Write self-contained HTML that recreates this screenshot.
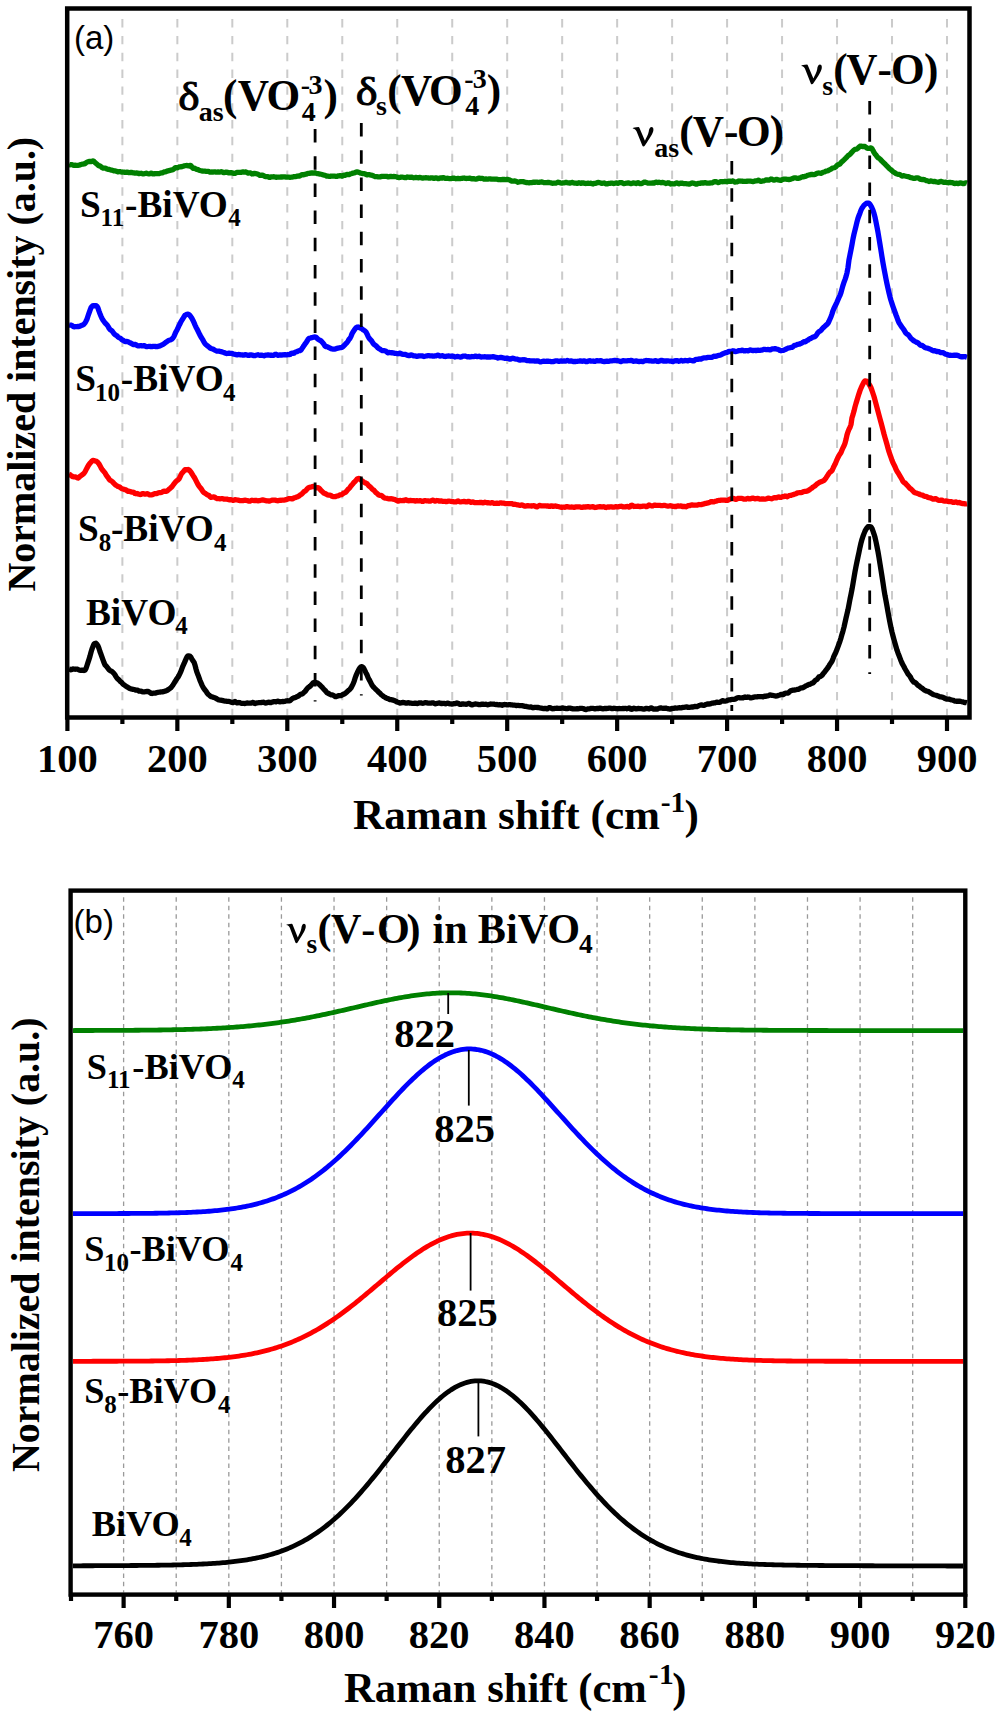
<!DOCTYPE html>
<html><head><meta charset="utf-8"><style>
html,body{margin:0;padding:0;background:#fff;}
svg{display:block;}
</style></head><body>
<svg width="1000" height="1722" viewBox="0 0 1000 1722">
<rect width="1000" height="1722" fill="#fff"/>
<line x1="122.38" y1="19.1" x2="122.38" y2="715" stroke="#cbcbcb" stroke-width="2" stroke-dasharray="8.4 8.42"/>
<line x1="177.35" y1="19.1" x2="177.35" y2="715" stroke="#cbcbcb" stroke-width="2" stroke-dasharray="8.4 8.42"/>
<line x1="232.32" y1="19.1" x2="232.32" y2="715" stroke="#cbcbcb" stroke-width="2" stroke-dasharray="8.4 8.42"/>
<line x1="287.3" y1="19.1" x2="287.3" y2="715" stroke="#cbcbcb" stroke-width="2" stroke-dasharray="8.4 8.42"/>
<line x1="342.27" y1="19.1" x2="342.27" y2="715" stroke="#cbcbcb" stroke-width="2" stroke-dasharray="8.4 8.42"/>
<line x1="397.25" y1="19.1" x2="397.25" y2="715" stroke="#cbcbcb" stroke-width="2" stroke-dasharray="8.4 8.42"/>
<line x1="452.23" y1="19.1" x2="452.23" y2="715" stroke="#cbcbcb" stroke-width="2" stroke-dasharray="8.4 8.42"/>
<line x1="507.2" y1="19.1" x2="507.2" y2="715" stroke="#cbcbcb" stroke-width="2" stroke-dasharray="8.4 8.42"/>
<line x1="562.17" y1="19.1" x2="562.17" y2="715" stroke="#cbcbcb" stroke-width="2" stroke-dasharray="8.4 8.42"/>
<line x1="617.15" y1="19.1" x2="617.15" y2="715" stroke="#cbcbcb" stroke-width="2" stroke-dasharray="8.4 8.42"/>
<line x1="672.12" y1="19.1" x2="672.12" y2="715" stroke="#cbcbcb" stroke-width="2" stroke-dasharray="8.4 8.42"/>
<line x1="727.1" y1="19.1" x2="727.1" y2="715" stroke="#cbcbcb" stroke-width="2" stroke-dasharray="8.4 8.42"/>
<line x1="782.07" y1="19.1" x2="782.07" y2="715" stroke="#cbcbcb" stroke-width="2" stroke-dasharray="8.4 8.42"/>
<line x1="837.05" y1="19.1" x2="837.05" y2="715" stroke="#cbcbcb" stroke-width="2" stroke-dasharray="8.4 8.42"/>
<line x1="892.02" y1="19.1" x2="892.02" y2="715" stroke="#cbcbcb" stroke-width="2" stroke-dasharray="8.4 8.42"/>
<line x1="947" y1="19.1" x2="947" y2="715" stroke="#cbcbcb" stroke-width="2" stroke-dasharray="8.4 8.42"/>
<path d="M69 164.41 L70 164.79 L71 164.71 L72 164.67 L73 165.12 L74 165.26 L75 165.15 L76 165.33 L77 165.42 L78 165.29 L79 165.17 L80 164.92 L81 164.51 L82 164.22 L83 164.13 L84 163.99 L85 163.51 L86 162.77 L87 162.13 L88 161.76 L89 161.46 L90 161.37 L91 161.66 L92 161.48 L93 160.93 L94 161.41 L95 162.55 L96 163.38 L97 164.09 L98 165.09 L99 165.86 L100 165.98 L101 166.62 L102 167.67 L103 168.09 L104 168.18 L105 168.12 L106 168.29 L107 169 L108 169.38 L109 169.38 L110 169.7 L111 170.04 L112 170.21 L113 170.54 L114 170.87 L115 170.98 L116 171.12 L117 171.54 L118 171.83 L119 171.68 L120 171.63 L121 171.84 L122 172.02 L123 172.07 L124 172.1 L125 172.35 L126 172.3 L127 172.06 L128 172.29 L129 172.64 L130 172.66 L131 172.41 L132 172.46 L133 172.78 L134 172.95 L135 173.19 L136 173.16 L137 172.89 L138 173.27 L139 173.64 L140 173.35 L141 173.27 L142 173.62 L143 173.84 L144 173.82 L145 173.46 L146 173.21 L147 173.42 L148 173.72 L149 173.95 L150 173.73 L151 173.21 L152 173.36 L153 173.94 L154 173.95 L155 173.58 L156 173.56 L157 173.68 L158 173.69 L159 173.6 L160 173.3 L161 172.95 L162 172.89 L163 172.61 L164 171.99 L165 171.86 L166 171.64 L167 171.1 L168 170.83 L169 170.61 L170 170.39 L171 170.05 L172 169.82 L173 169.57 L174 168.85 L175 167.93 L176 167.68 L177 167.92 L178 167.52 L179 166.97 L180 166.83 L181 166.75 L182 166.65 L183 166.34 L184 165.93 L185 165.73 L186 165.61 L187 165.51 L188 165.85 L189 165.98 L190 165.43 L191 165.64 L192 167.2 L193 168.29 L194 168.15 L195 168.39 L196 169.07 L197 169.31 L198 169.55 L199 170.08 L200 170.52 L201 170.76 L202 171.01 L203 171.11 L204 171.11 L205 171.21 L206 171.32 L207 171.41 L208 171.3 L209 171.55 L210 172.09 L211 172.07 L212 171.97 L213 172.03 L214 171.91 L215 171.96 L216 172.18 L217 172.06 L218 171.95 L219 172.15 L220 172.01 L221 171.75 L222 171.86 L223 172.36 L224 172.67 L225 172.43 L226 172.16 L227 172.06 L228 172.51 L229 172.95 L230 172.74 L231 172.62 L232 172.87 L233 173.1 L234 173.31 L235 173.37 L236 172.89 L237 172.42 L238 172.37 L239 172.4 L240 172.37 L241 172.32 L242 172.06 L243 171.89 L244 172.12 L245 172.02 L246 171.97 L247 172.57 L248 173.02 L249 172.99 L250 172.8 L251 173.16 L252 173.98 L253 173.88 L254 173.3 L255 173.45 L256 173.7 L257 173.82 L258 174.24 L259 174.83 L260 175.47 L261 175.43 L262 175.06 L263 175.35 L264 175.87 L265 176.44 L266 176.71 L267 176.56 L268 176.65 L269 177.34 L270 177.44 L271 176.89 L272 176.78 L273 176.85 L274 176.76 L275 176.99 L276 177.33 L277 177.11 L278 177.03 L279 177.2 L280 177.06 L281 176.97 L282 176.99 L283 176.92 L284 176.8 L285 176.89 L286 177.04 L287 177.09 L288 177.13 L289 177.23 L290 177.32 L291 177.2 L292 177.03 L293 176.89 L294 176.67 L295 176.59 L296 176.57 L297 176.2 L298 176 L299 176.11 L300 175.9 L301 175.19 L302 174.71 L303 174.9 L304 174.73 L305 174.32 L306 174.22 L307 173.78 L308 173.34 L309 173.32 L310 173.25 L311 172.9 L312 172.84 L313 173.21 L314 172.95 L315 172.77 L316 173.25 L317 173.55 L318 173.7 L319 173.84 L320 174.05 L321 174.26 L322 174.5 L323 174.91 L324 175.05 L325 175.24 L326 175.8 L327 176.22 L328 176.22 L329 176.32 L330 176.4 L331 176.06 L332 176.06 L333 176.22 L334 176.12 L335 176.24 L336 176.47 L337 176.39 L338 175.97 L339 175.84 L340 175.67 L341 175.69 L342 176.17 L343 175.72 L344 175.23 L345 175.34 L346 174.86 L347 174.37 L348 174.6 L349 174.59 L350 174.06 L351 173.75 L352 173.47 L353 173.05 L354 172.88 L355 172.63 L356 172.1 L357 171.89 L358 172.08 L359 172.43 L360 172.9 L361 173.22 L362 173.42 L363 173.59 L364 173.64 L365 173.81 L366 174.44 L367 174.86 L368 174.62 L369 174.56 L370 174.85 L371 175.04 L372 175.31 L373 175.69 L374 176.15 L375 176.57 L376 176.62 L377 176.72 L378 176.85 L379 176.86 L380 176.91 L381 176.57 L382 176.32 L383 176.47 L384 176.43 L385 176.31 L386 176.3 L387 176.47 L388 176.9 L389 176.85 L390 176.48 L391 176.43 L392 176.59 L393 176.63 L394 176.49 L395 176.56 L396 176.78 L397 177.04 L398 177.47 L399 177.61 L400 177.43 L401 177.18 L402 177.04 L403 177.27 L404 177.46 L405 177.69 L406 177.56 L407 177.02 L408 177.03 L409 177.26 L410 177.3 L411 177.15 L412 177.23 L413 177.61 L414 177.77 L415 177.58 L416 177.32 L417 177.49 L418 177.81 L419 177.56 L420 177.34 L421 177.77 L422 178.08 L423 178 L424 177.91 L425 177.82 L426 177.7 L427 177.77 L428 177.88 L429 178.12 L430 178.15 L431 177.82 L432 177.8 L433 178.1 L434 178.38 L435 178.16 L436 177.81 L437 178.06 L438 178.58 L439 178.5 L440 177.81 L441 177.88 L442 178.2 L443 177.76 L444 177.69 L445 178.27 L446 178.43 L447 178.22 L448 178.28 L449 178.54 L450 178.68 L451 178.61 L452 178.44 L453 178.17 L454 178.14 L455 178.45 L456 178.74 L457 178.59 L458 178.36 L459 178.6 L460 178.72 L461 178.48 L462 178.34 L463 178.15 L464 178.02 L465 178.35 L466 178.49 L467 178.43 L468 178.44 L469 178.21 L470 178.17 L471 178.65 L472 178.86 L473 178.53 L474 178.7 L475 179.04 L476 179.06 L477 178.92 L478 178.27 L479 178.06 L480 178.47 L481 178.48 L482 178.35 L483 178.56 L484 179.05 L485 179.11 L486 178.9 L487 179.04 L488 179.03 L489 178.91 L490 178.91 L491 179.01 L492 179.18 L493 179.15 L494 179.14 L495 179.23 L496 179.12 L497 179.2 L498 179.54 L499 179.61 L500 179.55 L501 179.73 L502 179.62 L503 179.31 L504 179.39 L505 179.7 L506 179.68 L507 179.41 L508 179.45 L509 179.73 L510 180.16 L511 180.81 L512 181.21 L513 181.18 L514 181.01 L515 180.94 L516 181.22 L517 181.82 L518 182.24 L519 182.03 L520 181.69 L521 181.64 L522 181.59 L523 181.59 L524 181.83 L525 182.28 L526 182.57 L527 182.52 L528 182.72 L529 182.8 L530 182.63 L531 182.72 L532 182.55 L533 182.23 L534 182.25 L535 182.26 L536 182.18 L537 182.22 L538 182.38 L539 182.34 L540 182.15 L541 182.02 L542 181.98 L543 182.33 L544 182.63 L545 182.58 L546 182.61 L547 182.56 L548 182.33 L549 182.39 L550 182.75 L551 182.92 L552 183.14 L553 183.31 L554 183.05 L555 183.04 L556 183.1 L557 182.68 L558 182.27 L559 182.29 L560 182.76 L561 183.12 L562 183.03 L563 182.83 L564 182.82 L565 182.66 L566 182.4 L567 182.67 L568 182.78 L569 182.87 L570 183.19 L571 182.76 L572 182.37 L573 182.71 L574 183.08 L575 183.08 L576 183.24 L577 183.41 L578 183.11 L579 182.75 L580 183.05 L581 183.38 L582 182.96 L583 182.78 L584 183.17 L585 183.46 L586 183.52 L587 183.33 L588 183.18 L589 183.44 L590 183.32 L591 183.1 L592 183.77 L593 183.98 L594 183.36 L595 183.34 L596 183.43 L597 182.75 L598 182.3 L599 182.52 L600 182.81 L601 183.07 L602 183.34 L603 183.19 L604 182.97 L605 183.44 L606 183.95 L607 183.91 L608 183.62 L609 183.45 L610 183.3 L611 183.13 L612 183.21 L613 183.37 L614 183.5 L615 183.26 L616 182.9 L617 183.16 L618 183.3 L619 182.88 L620 182.67 L621 182.59 L622 182.69 L623 183.31 L624 183.66 L625 183.49 L626 183.22 L627 183.09 L628 182.99 L629 182.99 L630 183.31 L631 183.56 L632 183.34 L633 183.01 L634 182.94 L635 183.22 L636 183.5 L637 183.04 L638 182.56 L639 183.11 L640 183.67 L641 183.57 L642 183.34 L643 182.86 L644 182.22 L645 182.07 L646 182.4 L647 182.85 L648 183.18 L649 183.21 L650 183.16 L651 183.21 L652 183 L653 182.93 L654 183.07 L655 182.55 L656 182.05 L657 182.42 L658 182.54 L659 182.21 L660 182.53 L661 182.77 L662 182.48 L663 182.47 L664 182.75 L665 183.14 L666 183.53 L667 183.29 L668 182.75 L669 182.93 L670 183.64 L671 184.01 L672 183.77 L673 183.78 L674 183.96 L675 183.64 L676 183.17 L677 182.97 L678 183.44 L679 183.82 L680 183.41 L681 183.11 L682 183.13 L683 183.46 L684 183.72 L685 183.63 L686 183.73 L687 183.81 L688 183.9 L689 184.06 L690 183.81 L691 183.31 L692 183.01 L693 183.08 L694 183.28 L695 183.64 L696 184.22 L697 184.09 L698 183.36 L699 183.29 L700 183.31 L701 182.78 L702 182.85 L703 183.14 L704 182.85 L705 182.7 L706 182.89 L707 183.07 L708 183.05 L709 183.03 L710 182.99 L711 182.96 L712 182.87 L713 182.35 L714 181.8 L715 181.57 L716 181.66 L717 182.13 L718 182.53 L719 182.35 L720 181.9 L721 181.68 L722 181.72 L723 181.75 L724 181.55 L725 181.37 L726 181.67 L727 181.73 L728 181.28 L729 181.08 L730 181.11 L731 181.32 L732 181.17 L733 180.95 L734 181.57 L735 182.08 L736 181.97 L737 181.83 L738 181.33 L739 180.93 L740 181.22 L741 181.17 L742 181.05 L743 181.43 L744 181.47 L745 181.35 L746 181.36 L747 181.26 L748 181.2 L749 181.16 L750 181.1 L751 181.18 L752 181.47 L753 181.63 L754 181.44 L755 181 L756 180.94 L757 180.82 L758 180.21 L759 180.43 L760 181.13 L761 181.29 L762 181.13 L763 180.92 L764 180.76 L765 180.38 L766 179.93 L767 179.86 L768 180.08 L769 180.17 L770 179.68 L771 179.02 L772 179.18 L773 179.85 L774 180.09 L775 179.86 L776 179.39 L777 179.48 L778 179.97 L779 180.02 L780 180.26 L781 180.36 L782 179.8 L783 179.4 L784 179.22 L785 179.08 L786 179.17 L787 179.27 L788 179.35 L789 179.55 L790 179.43 L791 179.04 L792 178.79 L793 178.35 L794 177.99 L795 177.88 L796 177.96 L797 178.3 L798 178.46 L799 178.23 L800 177.81 L801 177.42 L802 176.94 L803 176.66 L804 176.74 L805 176.46 L806 176.01 L807 175.69 L808 175.21 L809 174.98 L810 174.82 L811 174.45 L812 174.36 L813 174.58 L814 174.64 L815 174.43 L816 173.85 L817 173.26 L818 173.04 L819 172.99 L820 173.24 L821 173.35 L822 172.87 L823 172.29 L824 172.04 L825 171.69 L826 171.18 L827 171.01 L828 170.71 L829 170.08 L830 169.62 L831 169.18 L832 168.46 L833 167.98 L834 167.76 L835 167.41 L836 166.73 L837 165.44 L838 164.55 L839 164.49 L840 163.91 L841 162.59 L842 161.57 L843 160.81 L844 159.88 L845 158.9 L846 157.92 L847 156.87 L848 155.7 L849 155 L850 154.33 L851 153.17 L852 152.13 L853 151.06 L854 149.98 L855 149.45 L856 149.26 L857 148.9 L858 148.19 L859 147.03 L860 146.23 L861 146.11 L862 146.43 L863 146.63 L864 146.44 L865 146.48 L866 147.25 L867 148.24 L868 148.4 L869 148.26 L870 148.12 L871 147.82 L872 148.55 L873 150.6 L874 152.5 L875 153.9 L876 155.06 L877 156.59 L878 157.73 L879 158.2 L880 159 L881 160.11 L882 161.22 L883 162.24 L884 163.09 L885 164.03 L886 165.11 L887 166.12 L888 167.13 L889 168.19 L890 169.1 L891 169.76 L892 170.69 L893 171.72 L894 172.28 L895 172.87 L896 173.61 L897 174.01 L898 174.29 L899 174.46 L900 174.65 L901 175.34 L902 176 L903 175.88 L904 175.69 L905 175.98 L906 176.22 L907 176.5 L908 176.71 L909 176.92 L910 177.42 L911 177.66 L912 177.84 L913 178.16 L914 178.47 L915 178.3 L916 177.91 L917 177.81 L918 177.81 L919 178.29 L920 179.04 L921 179.48 L922 179.57 L923 179.46 L924 179.59 L925 179.98 L926 180.52 L927 180.7 L928 180.97 L929 181.51 L930 181.17 L931 180.85 L932 181.24 L933 181.53 L934 181.45 L935 181.49 L936 181.82 L937 182.03 L938 182.32 L939 182.21 L940 181.59 L941 181.39 L942 181.68 L943 182.07 L944 182.29 L945 182.25 L946 182.22 L947 182.61 L948 182.74 L949 182.33 L950 182.39 L951 182.67 L952 182.67 L953 182.92 L954 183.43 L955 183.56 L956 183.2 L957 183.16 L958 183.55 L959 183.36 L960 182.91 L961 182.87 L962 183.25 L963 183.72 L964 183.57 L965 182.99 L966 182.78 L967 183.19" fill="none" stroke="#008000" stroke-width="5.3" stroke-linejoin="round" stroke-linecap="butt"/>
<path d="M69 324.98 L70 325.19 L71 325.16 L72 325.46 L73 326.46 L74 326.82 L75 326.59 L76 326.69 L77 326.61 L78 326.48 L79 326.5 L80 326.2 L81 325.68 L82 325.25 L83 324.83 L84 324.17 L85 322.94 L86 321.23 L87 319.11 L88 316.05 L89 313.13 L90 310.27 L91 307.74 L92 306.45 L93 305.55 L94 305.6 L95 305.78 L96 305.64 L97 306.21 L98 308.06 L99 311.06 L100 313.75 L101 316.22 L102 318.45 L103 320.12 L104 321.47 L105 322.77 L106 323.95 L107 324.94 L108 326.29 L109 328.1 L110 329.52 L111 330.14 L112 330.87 L113 332.23 L114 333.56 L115 334.59 L116 335.27 L117 335.83 L118 336.98 L119 337.77 L120 337.98 L121 338.85 L122 339.77 L123 340.22 L124 340.95 L125 341.58 L126 341.5 L127 341.37 L128 341.74 L129 342.36 L130 342.79 L131 343.24 L132 343.95 L133 344.48 L134 344.52 L135 344.36 L136 344.7 L137 345.48 L138 345.9 L139 345.97 L140 345.7 L141 345.58 L142 345.9 L143 345.87 L144 345.6 L145 345.98 L146 346.64 L147 346.7 L148 346.49 L149 346.31 L150 346.37 L151 346.65 L152 346.54 L153 346.34 L154 346.33 L155 346.36 L156 346.64 L157 346.66 L158 346.39 L159 346.23 L160 345.81 L161 345.34 L162 344.86 L163 344.37 L164 343.79 L165 342.95 L166 342.15 L167 341.52 L168 340.85 L169 340.25 L170 339.99 L171 339.7 L172 338.99 L173 337.9 L174 336.33 L175 333.91 L176 331.7 L177 329.94 L178 327.82 L179 325.73 L180 323.72 L181 321.68 L182 319.98 L183 318.55 L184 316.79 L185 315.25 L186 314.65 L187 314.25 L188 314.08 L189 314.55 L190 315.64 L191 317.03 L192 318.56 L193 320.42 L194 322.53 L195 324.97 L196 327.19 L197 329 L198 330.98 L199 333.06 L200 335.16 L201 336.94 L202 338.46 L203 340.18 L204 342.06 L205 343.7 L206 344.73 L207 345.51 L208 346.2 L209 347.02 L210 347.89 L211 348.49 L212 348.83 L213 349.13 L214 349.66 L215 350.25 L216 350.8 L217 351.1 L218 351.14 L219 351.16 L220 351.4 L221 351.61 L222 351.86 L223 352.25 L224 352.54 L225 352.95 L226 353.37 L227 353.51 L228 353.3 L229 353.1 L230 353.31 L231 353.43 L232 353.49 L233 353.99 L234 354.21 L235 354.33 L236 354.72 L237 354.84 L238 354.6 L239 354.47 L240 354.75 L241 354.85 L242 354.85 L243 355.2 L244 355.04 L245 354.62 L246 354.71 L247 354.98 L248 355.43 L249 355.42 L250 354.89 L251 354.82 L252 355.07 L253 355.36 L254 355.69 L255 355.57 L256 355.3 L257 355.04 L258 354.76 L259 355.12 L260 355.46 L261 355.17 L262 355.06 L263 355.53 L264 355.84 L265 355.37 L266 355.12 L267 355.19 L268 354.95 L269 355 L270 355.24 L271 355.26 L272 355.26 L273 355.46 L274 355.17 L275 354.41 L276 354.26 L277 354.86 L278 355.33 L279 355.17 L280 354.9 L281 354.89 L282 355.01 L283 354.97 L284 354.66 L285 354.53 L286 354.9 L287 354.78 L288 354.45 L289 354.71 L290 354.45 L291 353.51 L292 353.07 L293 353.28 L294 353.13 L295 352.27 L296 351.78 L297 351.7 L298 351.07 L299 350.64 L300 350.71 L301 349.99 L302 348.49 L303 347.08 L304 345.6 L305 343.99 L306 342.81 L307 341.32 L308 339.44 L309 338.46 L310 338.27 L311 337.87 L312 337.52 L313 337.34 L314 337.01 L315 336.86 L316 337.26 L317 338.23 L318 339.18 L319 339.79 L320 340.26 L321 340.87 L322 341.88 L323 343.02 L324 344.41 L325 346.02 L326 346.63 L327 346.67 L328 347.14 L329 347.71 L330 348.2 L331 348.72 L332 348.96 L333 349.1 L334 349.2 L335 349.08 L336 348.72 L337 348.35 L338 348.17 L339 347.97 L340 347.7 L341 347.54 L342 347.36 L343 346.63 L344 345.61 L345 344.59 L346 343.54 L347 342.61 L348 341.11 L349 339.42 L350 338.35 L351 336.41 L352 333.74 L353 331.9 L354 330.41 L355 328.95 L356 327.84 L357 327.2 L358 326.97 L359 327.35 L360 327.87 L361 328.18 L362 328.85 L363 329.7 L364 330.33 L365 330.92 L366 332.01 L367 333.94 L368 336.19 L369 338.03 L370 339.25 L371 340.22 L372 341.49 L373 343.22 L374 344.46 L375 345.09 L376 345.78 L377 346.76 L378 347.98 L379 348.73 L380 349.23 L381 349.96 L382 350.51 L383 350.66 L384 350.7 L385 350.81 L386 351.24 L387 352.26 L388 352.72 L389 352.32 L390 352.5 L391 352.79 L392 352.75 L393 352.84 L394 353.09 L395 353.41 L396 353.43 L397 353.55 L398 353.74 L399 353.42 L400 353.18 L401 353.64 L402 354.19 L403 354.33 L404 354.29 L405 354.31 L406 354.71 L407 355.11 L408 355.41 L409 355.68 L410 355.37 L411 354.87 L412 355.05 L413 355.61 L414 355.84 L415 355.93 L416 356.11 L417 356.34 L418 356.21 L419 355.82 L420 355.92 L421 355.93 L422 355.8 L423 356.21 L424 356.5 L425 356.26 L426 355.99 L427 355.79 L428 355.65 L429 355.71 L430 355.8 L431 355.83 L432 355.88 L433 356.15 L434 356.18 L435 355.94 L436 355.82 L437 355.32 L438 355.17 L439 355.73 L440 356.12 L441 355.99 L442 355.71 L443 355.9 L444 356.34 L445 356.5 L446 356.39 L447 356.19 L448 355.99 L449 355.98 L450 356.2 L451 356.27 L452 356 L453 356.03 L454 356.62 L455 356.98 L456 356.77 L457 356.48 L458 356.51 L459 356.76 L460 356.99 L461 357.06 L462 356.69 L463 356.21 L464 356.1 L465 356.02 L466 356.25 L467 356.87 L468 356.82 L469 356.63 L470 356.99 L471 356.83 L472 356.5 L473 356.66 L474 356.64 L475 356.25 L476 356.12 L477 356.56 L478 356.53 L479 356.23 L480 356.73 L481 357.05 L482 356.86 L483 356.85 L484 356.77 L485 356.65 L486 356.97 L487 357.15 L488 356.88 L489 356.98 L490 357.11 L491 356.92 L492 356.78 L493 356.66 L494 356.83 L495 357.23 L496 357.3 L497 357.59 L498 358.05 L499 357.74 L500 357.42 L501 357.45 L502 357.66 L503 357.94 L504 358.04 L505 358.37 L506 358.39 L507 358.18 L508 358.36 L509 358.79 L510 359.21 L511 358.9 L512 358.34 L513 358.24 L514 358.53 L515 358.9 L516 359.01 L517 359.1 L518 359.43 L519 359.99 L520 360.21 L521 359.84 L522 359.77 L523 359.82 L524 359.72 L525 359.82 L526 360.22 L527 360.64 L528 360.61 L529 360.6 L530 360.86 L531 360.91 L532 360.85 L533 360.82 L534 360.81 L535 361.06 L536 361.13 L537 360.79 L538 360.86 L539 361.34 L540 361.76 L541 361.89 L542 361.51 L543 361.26 L544 361.23 L545 361.34 L546 361.38 L547 361.12 L548 361.13 L549 361.29 L550 361.39 L551 361.57 L552 361.73 L553 361.66 L554 361.39 L555 361.04 L556 360.79 L557 360.82 L558 361.1 L559 361.32 L560 361.07 L561 360.94 L562 361.14 L563 361.01 L564 360.9 L565 361.15 L566 361.02 L567 360.5 L568 360.63 L569 361.09 L570 361.06 L571 360.89 L572 361.17 L573 361.49 L574 361.41 L575 361.49 L576 361.5 L577 361.3 L578 361.25 L579 361.1 L580 360.87 L581 360.98 L582 361.28 L583 361.18 L584 360.89 L585 361.11 L586 361.69 L587 361.68 L588 361.22 L589 360.83 L590 360.77 L591 361.15 L592 361.15 L593 361.01 L594 361.39 L595 361.37 L596 360.85 L597 360.71 L598 360.85 L599 360.97 L600 360.76 L601 360.73 L602 361.22 L603 361.46 L604 361.56 L605 361.49 L606 361.16 L607 361.17 L608 361.36 L609 361.29 L610 360.98 L611 360.81 L612 360.81 L613 360.71 L614 360.46 L615 360.38 L616 360.6 L617 360.65 L618 360.7 L619 360.95 L620 361.34 L621 361.59 L622 361.12 L623 360.66 L624 360.76 L625 360.91 L626 360.93 L627 360.77 L628 360.64 L629 360.68 L630 360.51 L631 360.32 L632 360.56 L633 361.07 L634 361.29 L635 361.03 L636 360.94 L637 361.18 L638 361.45 L639 361.59 L640 361.38 L641 361.26 L642 361.58 L643 361.54 L644 361.1 L645 360.75 L646 360.51 L647 360.55 L648 360.68 L649 360.75 L650 360.82 L651 360.87 L652 361.02 L653 361.15 L654 361.05 L655 360.7 L656 360.74 L657 361.36 L658 361.5 L659 361.15 L660 360.88 L661 360.44 L662 360.32 L663 360.91 L664 361.22 L665 360.8 L666 360.85 L667 361.07 L668 360.79 L669 360.98 L670 361.19 L671 361.04 L672 361.38 L673 361.59 L674 361.01 L675 360.73 L676 360.8 L677 360.59 L678 360.76 L679 361.28 L680 361.04 L681 360.44 L682 360.59 L683 361 L684 360.85 L685 360.46 L686 360.55 L687 360.76 L688 360.75 L689 360.36 L690 360.14 L691 360.5 L692 360.65 L693 360.88 L694 360.84 L695 359.87 L696 359.31 L697 359.45 L698 359.28 L699 358.84 L700 358.89 L701 359.12 L702 358.64 L703 358.06 L704 357.93 L705 357.89 L706 357.9 L707 357.65 L708 357.44 L709 357.45 L710 357.32 L711 357.4 L712 357.3 L713 356.67 L714 356.26 L715 356.32 L716 356.27 L717 355.9 L718 355.54 L719 355.31 L720 355.17 L721 354.82 L722 354.17 L723 353.72 L724 353.36 L725 352.91 L726 352.66 L727 352.39 L728 351.85 L729 351.28 L730 351.28 L731 351.7 L732 351.45 L733 350.76 L734 350.88 L735 351.56 L736 351.6 L737 351.27 L738 350.97 L739 350.55 L740 350.67 L741 350.69 L742 350.19 L743 350.31 L744 350.9 L745 350.94 L746 350.59 L747 350.74 L748 350.91 L749 350.37 L750 349.97 L751 350.11 L752 350.38 L753 350.61 L754 350.35 L755 350.33 L756 350.64 L757 350.38 L758 350.24 L759 350.4 L760 350.33 L761 350.19 L762 350.08 L763 349.72 L764 349.37 L765 349.46 L766 349.57 L767 349.57 L768 349.49 L769 349.54 L770 349.96 L771 349.73 L772 348.99 L773 348.95 L774 348.77 L775 348.55 L776 348.97 L777 349.23 L778 349.34 L779 349.8 L780 350.49 L781 350.73 L782 350.51 L783 350.31 L784 350.08 L785 349.67 L786 349.13 L787 348.59 L788 348.16 L789 347.98 L790 347.75 L791 347.36 L792 347.34 L793 346.86 L794 345.71 L795 345.25 L796 345.09 L797 344.62 L798 344.27 L799 344.16 L800 343.85 L801 343.36 L802 342.95 L803 342.23 L804 341.71 L805 341.75 L806 341.26 L807 340.55 L808 340.15 L809 339.31 L810 338.63 L811 338.35 L812 337.69 L813 337.16 L814 336.95 L815 336.55 L816 335.62 L817 334.09 L818 332.58 L819 331.59 L820 331.09 L821 330.37 L822 329.06 L823 327.92 L824 327.14 L825 326.17 L826 325.22 L827 324.45 L828 323.33 L829 321.24 L830 318.99 L831 316.76 L832 313.84 L833 310.65 L834 308.25 L835 306.28 L836 304.25 L837 302.12 L838 299.66 L839 297.4 L840 295.42 L841 292.57 L842 288.84 L843 285.34 L844 282.26 L845 279.63 L846 276.67 L847 272.79 L848 267.43 L849 259.71 L850 254.66 L851 249.81 L852 244.4 L853 238.89 L854 234.16 L855 230.12 L856 226.07 L857 221.89 L858 218.24 L859 215.51 L860 212.93 L861 210.11 L862 208.09 L863 206.69 L864 205.27 L865 204.46 L866 203.71 L867 203.03 L868 203.08 L869 203.38 L870 204.4 L871 206.03 L872 208.01 L873 210.32 L874 213.31 L875 217.14 L876 221.95 L877 227.07 L878 232.32 L879 238.35 L880 244.53 L881 250.67 L882 256.96 L883 262.97 L884 268.49 L885 273.78 L886 279.01 L887 283.86 L888 288.37 L889 292.81 L890 296.92 L891 300.5 L892 303.63 L893 306.58 L894 309.42 L895 312.2 L896 314.98 L897 317.56 L898 320.37 L899 322.73 L900 324.17 L901 325.83 L902 327.34 L903 328.46 L904 329.9 L905 331.72 L906 333.27 L907 334.04 L908 334.58 L909 335.62 L910 337.13 L911 338.47 L912 339.29 L913 340.12 L914 340.97 L915 341.48 L916 342.02 L917 342.47 L918 342.98 L919 343.98 L920 344.94 L921 345.35 L922 345.42 L923 345.98 L924 346.91 L925 347.6 L926 347.94 L927 348.04 L928 348.32 L929 348.75 L930 349.17 L931 349.6 L932 350.19 L933 350.76 L934 350.71 L935 350.66 L936 351.31 L937 351.64 L938 351.47 L939 351.7 L940 352.31 L941 352.7 L942 352.58 L943 352.62 L944 353.2 L945 353.97 L946 354.29 L947 354.31 L948 354.94 L949 355.25 L950 355.13 L951 355.28 L952 355.34 L953 355.32 L954 355.25 L955 355.26 L956 355.16 L957 355.2 L958 355.59 L959 355.98 L960 356.52 L961 356.83 L962 356.71 L963 356.73 L964 356.68 L965 356.59 L966 356.96 L967 357.29" fill="none" stroke="#0000ff" stroke-width="5.3" stroke-linejoin="round" stroke-linecap="butt"/>
<path d="M69 474.21 L70 474.6 L71 475.47 L72 476.29 L73 476.74 L74 476.94 L75 476.93 L76 477.14 L77 477.65 L78 478 L79 477.28 L80 476.3 L81 475.71 L82 474.96 L83 474.12 L84 473.34 L85 471.87 L86 469.86 L87 467.95 L88 466.11 L89 464.51 L90 463.34 L91 462.13 L92 460.98 L93 460.43 L94 460.59 L95 460.96 L96 461.09 L97 461.72 L98 462.73 L99 463.91 L100 465.68 L101 467.68 L102 469.19 L103 470.6 L104 471.71 L105 472.87 L106 474.78 L107 476.24 L108 477.41 L109 479.01 L110 480.21 L111 480.75 L112 481.39 L113 482.38 L114 483.49 L115 484.56 L116 485.24 L117 485.84 L118 486.51 L119 486.81 L120 487.23 L121 488.12 L122 488.77 L123 489 L124 489.38 L125 489.67 L126 489.93 L127 490.79 L128 491.23 L129 491.16 L130 491.49 L131 491.96 L132 492.18 L133 492.07 L134 492.53 L135 493.52 L136 493.74 L137 493.42 L138 493.78 L139 494.28 L140 494.5 L141 494.43 L142 493.9 L143 493.59 L144 493.78 L145 494.13 L146 494.11 L147 493.74 L148 493.89 L149 494.61 L150 494.9 L151 494.86 L152 494.85 L153 494.48 L154 493.95 L155 493.59 L156 493.65 L157 493.62 L158 493 L159 492.62 L160 492.62 L161 492.6 L162 492.27 L163 491.49 L164 491.06 L165 491.31 L166 491.46 L167 491 L168 490.17 L169 489.31 L170 488.47 L171 487.59 L172 486.58 L173 485.26 L174 483.93 L175 482.67 L176 481.41 L177 480.53 L178 479.93 L179 478.91 L180 477.07 L181 474.74 L182 473.02 L183 472.04 L184 470.79 L185 469.65 L186 469.62 L187 469.75 L188 469.51 L189 469.95 L190 470.97 L191 472.21 L192 473.76 L193 475.42 L194 476.89 L195 478.62 L196 480.59 L197 482.59 L198 484.52 L199 486.08 L200 487.32 L201 488.54 L202 490.05 L203 491.65 L204 492.67 L205 493.21 L206 493.97 L207 494.69 L208 495.03 L209 495.51 L210 496.6 L211 497.38 L212 497.23 L213 497 L214 497.02 L215 497.37 L216 498.11 L217 498.53 L218 498.57 L219 498.69 L220 498.83 L221 498.72 L222 498.54 L223 498.8 L224 499.09 L225 499.05 L226 499.05 L227 499.14 L228 499.45 L229 499.74 L230 499.65 L231 499.73 L232 500.06 L233 500.33 L234 500.12 L235 499.67 L236 499.81 L237 499.97 L238 500.09 L239 500.43 L240 500.62 L241 500.55 L242 500.53 L243 500.57 L244 500.3 L245 500.23 L246 500.35 L247 500.5 L248 500.93 L249 501.16 L250 501.04 L251 500.56 L252 500.26 L253 500.45 L254 500.52 L255 500.38 L256 500.42 L257 500.68 L258 500.77 L259 500.62 L260 500.55 L261 500.29 L262 500.02 L263 499.99 L264 500.08 L265 500.51 L266 500.82 L267 500.77 L268 500.92 L269 501.07 L270 500.82 L271 500.55 L272 500.22 L273 500.11 L274 500.22 L275 500.18 L276 500.39 L277 500.68 L278 500.73 L279 500.44 L280 500.21 L281 500.28 L282 500.17 L283 500.09 L284 500.06 L285 499.9 L286 499.61 L287 499.34 L288 498.97 L289 498.6 L290 498.52 L291 498.62 L292 498.92 L293 498.61 L294 497.78 L295 497.59 L296 497.36 L297 496.93 L298 496.69 L299 496 L300 495.12 L301 494.54 L302 493.83 L303 492.69 L304 491.6 L305 491.06 L306 490.3 L307 489.02 L308 488.13 L309 487.52 L310 487.17 L311 487.14 L312 486.76 L313 486.29 L314 486.4 L315 487.12 L316 487.74 L317 487.68 L318 487.76 L319 488.23 L320 489.23 L321 490.46 L322 491.33 L323 492.29 L324 493.2 L325 493.52 L326 493.96 L327 494.71 L328 495.04 L329 495.07 L330 495.19 L331 495.56 L332 496.21 L333 496.61 L334 496.71 L335 496.69 L336 496.38 L337 496.02 L338 495.83 L339 495.44 L340 494.96 L341 494.76 L342 494.46 L343 493.7 L344 492.94 L345 492.58 L346 491.92 L347 490.59 L348 489.35 L349 488.53 L350 487.44 L351 485.85 L352 484.8 L353 483.7 L354 482.37 L355 481.54 L356 480.34 L357 479.12 L358 478.57 L359 478.46 L360 479.18 L361 480.12 L362 480.71 L363 481.5 L364 482.17 L365 482.79 L366 483.21 L367 483.62 L368 484.85 L369 486.08 L370 486.72 L371 487.65 L372 488.91 L373 489.68 L374 490.32 L375 491.53 L376 492.68 L377 493.42 L378 494.39 L379 495.21 L380 495.36 L381 495.41 L382 495.94 L383 496.9 L384 497.69 L385 498.07 L386 498.25 L387 498.4 L388 498.62 L389 498.77 L390 498.79 L391 498.7 L392 498.82 L393 499.16 L394 499.3 L395 499.61 L396 500.1 L397 500.64 L398 501.19 L399 500.92 L400 500.46 L401 500.6 L402 500.56 L403 500.49 L404 500.6 L405 500.03 L406 499.69 L407 500.26 L408 500.71 L409 500.81 L410 500.45 L411 500.4 L412 500.72 L413 500.56 L414 500.73 L415 501.08 L416 500.86 L417 500.66 L418 500.79 L419 500.8 L420 500.66 L421 500.83 L422 501.27 L423 501.39 L424 500.84 L425 500.55 L426 500.79 L427 500.82 L428 500.85 L429 501.06 L430 501.09 L431 500.83 L432 500.41 L433 500.06 L434 500.53 L435 501.14 L436 500.88 L437 500.52 L438 500.64 L439 501.03 L440 501 L441 500.85 L442 501.14 L443 501.37 L444 501.28 L445 501.31 L446 501.62 L447 501.53 L448 501.17 L449 501.05 L450 501.24 L451 501.45 L452 501.51 L453 501.68 L454 501.86 L455 501.95 L456 501.82 L457 501.28 L458 500.98 L459 501.43 L460 501.81 L461 501.79 L462 501.7 L463 501.51 L464 501.34 L465 501.55 L466 501.97 L467 501.9 L468 501.47 L469 501.34 L470 501.8 L471 502.3 L472 502.12 L473 501.99 L474 502.46 L475 502.72 L476 502.61 L477 502.58 L478 502.61 L479 502.56 L480 502.37 L481 502.33 L482 502.61 L483 502.87 L484 502.67 L485 502.22 L486 502.5 L487 502.82 L488 502.66 L489 502.79 L490 503.01 L491 502.9 L492 502.68 L493 502.85 L494 503.31 L495 503.44 L496 503.21 L497 503.12 L498 503.32 L499 503.34 L500 502.91 L501 502.81 L502 503.07 L503 503.07 L504 503.2 L505 503.58 L506 503.64 L507 503.6 L508 503.62 L509 503.57 L510 503.65 L511 503.53 L512 503.7 L513 504.24 L514 504.28 L515 504.19 L516 504.48 L517 504.83 L518 504.93 L519 505.13 L520 505.29 L521 505.09 L522 505 L523 505.33 L524 505.83 L525 506.11 L526 506.03 L527 505.74 L528 505.7 L529 505.83 L530 505.83 L531 506.02 L532 506 L533 505.71 L534 505.71 L535 506.07 L536 506.72 L537 506.87 L538 506.29 L539 505.67 L540 505.42 L541 505.78 L542 505.94 L543 505.9 L544 505.97 L545 505.78 L546 505.9 L547 506.02 L548 506 L549 506.44 L550 506.47 L551 505.84 L552 505.8 L553 506.29 L554 506.25 L555 505.99 L556 506.13 L557 506.33 L558 506.51 L559 506.73 L560 506.96 L561 507.25 L562 507.26 L563 507.1 L564 507.17 L565 507.23 L566 506.86 L567 506.55 L568 506.77 L569 507.08 L570 507.21 L571 507.09 L572 506.99 L573 507.2 L574 507.36 L575 507.09 L576 506.86 L577 506.87 L578 506.84 L579 506.9 L580 506.98 L581 507.28 L582 507.46 L583 507.12 L584 506.9 L585 507.02 L586 506.98 L587 506.67 L588 506.64 L589 506.97 L590 507.14 L591 506.99 L592 506.74 L593 506.76 L594 507.21 L595 507.5 L596 507.3 L597 507.14 L598 506.99 L599 506.73 L600 506.71 L601 506.88 L602 506.99 L603 506.8 L604 506.74 L605 507.29 L606 507.49 L607 507.11 L608 506.99 L609 507.11 L610 506.91 L611 506.77 L612 507.01 L613 507.08 L614 507.09 L615 506.93 L616 506.65 L617 506.78 L618 506.84 L619 506.55 L620 506.41 L621 506.26 L622 506.3 L623 506.84 L624 506.95 L625 506.83 L626 506.76 L627 506.44 L628 506.62 L629 507.11 L630 506.69 L631 505.53 L632 505.08 L633 505.82 L634 506.48 L635 506.36 L636 506.31 L637 506.34 L638 506.17 L639 506.32 L640 506.56 L641 506.51 L642 506.27 L643 506.09 L644 506.08 L645 506.15 L646 506.6 L647 506.66 L648 505.66 L649 504.98 L650 505.3 L651 505.78 L652 506.01 L653 505.79 L654 505.22 L655 505.19 L656 505.38 L657 505.28 L658 505.34 L659 505.4 L660 505.48 L661 505.62 L662 505.68 L663 505.53 L664 505.3 L665 505.47 L666 505.72 L667 506.01 L668 506.21 L669 505.98 L670 505.75 L671 505.83 L672 506.16 L673 506.34 L674 506.34 L675 506.54 L676 506.49 L677 506.06 L678 505.88 L679 506.2 L680 506.17 L681 505.92 L682 506.41 L683 506.71 L684 506.38 L685 506.45 L686 506.78 L687 506.36 L688 505.67 L689 505.52 L690 505.53 L691 505.14 L692 504.88 L693 505.16 L694 505.23 L695 505.14 L696 505.21 L697 505.16 L698 504.77 L699 504.49 L700 504.72 L701 504.71 L702 504.38 L703 504.24 L704 503.83 L705 503.51 L706 503.42 L707 503.08 L708 502.82 L709 502.57 L710 502.18 L711 501.7 L712 501.65 L713 501.94 L714 501.78 L715 501.39 L716 501.21 L717 500.98 L718 500.49 L719 500.3 L720 500.37 L721 500.19 L722 500.09 L723 500.14 L724 500.07 L725 500.17 L726 500.46 L727 500.46 L728 500.14 L729 499.65 L730 499.1 L731 498.8 L732 498.62 L733 498.38 L734 498.61 L735 499.19 L736 499.41 L737 498.99 L738 498.48 L739 498.34 L740 498.31 L741 498.39 L742 498.44 L743 498.78 L744 499.15 L745 499.13 L746 499.02 L747 498.57 L748 498.4 L749 498.89 L750 498.96 L751 498.53 L752 498.23 L753 498.13 L754 498.47 L755 498.86 L756 498.73 L757 498.4 L758 498.39 L759 498.86 L760 499.22 L761 499.2 L762 498.88 L763 498.82 L764 499.18 L765 499.05 L766 498.85 L767 498.62 L768 498.16 L769 498.25 L770 498.5 L771 498.67 L772 498.78 L773 498.25 L774 497.59 L775 497.64 L776 497.88 L777 497.62 L778 497.05 L779 496.94 L780 497.35 L781 497.41 L782 496.9 L783 496.7 L784 496.62 L785 496 L786 496.21 L787 496.74 L788 496.31 L789 495.71 L790 495.49 L791 495.38 L792 494.94 L793 494.68 L794 494.38 L795 493.98 L796 493.71 L797 493.12 L798 492.78 L799 492.71 L800 492.55 L801 492.56 L802 492.43 L803 491.94 L804 491.51 L805 491.29 L806 491.24 L807 491.14 L808 490.7 L809 490.13 L810 489.34 L811 488.6 L812 487.95 L813 487.03 L814 486.49 L815 485.94 L816 484.9 L817 484 L818 483.3 L819 482.71 L820 482.19 L821 481.76 L822 481.33 L823 480.99 L824 480.49 L825 479.35 L826 477.91 L827 476.37 L828 474.81 L829 473.3 L830 472.06 L831 471.42 L832 470.52 L833 468.44 L834 466.18 L835 464.32 L836 462.02 L837 459.6 L838 457.45 L839 455.53 L840 454.07 L841 452.49 L842 450.08 L843 447.74 L844 445.84 L845 443.21 L846 439.52 L847 434.9 L848 431.67 L849 429.2 L850 427.39 L851 424.49 L852 417.73 L853 414.63 L854 411.06 L855 406.87 L856 403.35 L857 400.11 L858 396.84 L859 393.59 L860 390.59 L861 388.12 L862 385.99 L863 383.93 L864 381.94 L865 380.81 L866 381 L867 381.44 L868 382.63 L869 384.19 L870 385.77 L871 387.75 L872 390.48 L873 393.48 L874 396.53 L875 400.11 L876 403.84 L877 407.61 L878 411.42 L879 415.12 L880 418.94 L881 422.57 L882 426.18 L883 430.12 L884 434.02 L885 437.59 L886 441.02 L887 444.51 L888 448.31 L889 451.73 L890 454.57 L891 457.44 L892 460.27 L893 462.86 L894 464.72 L895 466.71 L896 469.27 L897 471.18 L898 472.69 L899 474.34 L900 476.03 L901 477.77 L902 479.56 L903 481.42 L904 482.53 L905 483.01 L906 483.99 L907 485.14 L908 486.14 L909 487.38 L910 488.4 L911 489.04 L912 489.9 L913 491.04 L914 492.1 L915 492.66 L916 492.96 L917 493.3 L918 493.64 L919 494.02 L920 494.49 L921 494.92 L922 495.05 L923 495.36 L924 496.1 L925 496.45 L926 496.43 L927 496.81 L928 497.43 L929 497.68 L930 497.8 L931 498.12 L932 498.63 L933 499.16 L934 499.13 L935 498.6 L936 498.63 L937 499.5 L938 500.17 L939 500.33 L940 500.39 L941 500.17 L942 500.2 L943 500.74 L944 501.1 L945 501.05 L946 500.93 L947 501.11 L948 501.45 L949 501.68 L950 501.63 L951 501.57 L952 501.96 L953 502.43 L954 502.36 L955 502.06 L956 501.99 L957 502.41 L958 502.76 L959 502.45 L960 502.57 L961 503.29 L962 503.57 L963 503.51 L964 503.68 L965 503.93 L966 503.95 L967 503.81" fill="none" stroke="#ff0000" stroke-width="5.3" stroke-linejoin="round" stroke-linecap="butt"/>
<path d="M69 669 L70 669.3 L71 669.75 L72 669.44 L73 668.93 L74 669.02 L75 669.24 L76 669.18 L77 669.11 L78 669.46 L79 670 L80 670.31 L81 670.31 L82 670.08 L83 670.23 L84 670.52 L85 670.27 L86 668.47 L87 665.48 L88 662.43 L89 659.37 L90 656.13 L91 652.26 L92 649.03 L93 646.4 L94 644.09 L95 643.28 L96 643.27 L97 644.29 L98 645.88 L99 648.52 L100 651.69 L101 654.3 L102 657.11 L103 659.84 L104 662.69 L105 664.91 L106 665.93 L107 667 L108 668.35 L109 669.69 L110 670.54 L111 670.96 L112 671.56 L113 672.43 L114 673.53 L115 674.87 L116 676.57 L117 678.16 L118 679.04 L119 679.98 L120 681.12 L121 681.97 L122 682.96 L123 684.1 L124 684.82 L125 685.41 L126 686.27 L127 686.82 L128 687.35 L129 688.06 L130 688.58 L131 688.94 L132 689.09 L133 689.3 L134 689.5 L135 689.77 L136 690.19 L137 690.12 L138 690.4 L139 691.16 L140 691.07 L141 691.09 L142 691.66 L143 691.84 L144 691.83 L145 691.74 L146 691.59 L147 691.39 L148 691.42 L149 691.93 L150 692.58 L151 693.31 L152 693.54 L153 693.21 L154 693.16 L155 693.12 L156 692.87 L157 692.53 L158 692.29 L159 692.2 L160 692.05 L161 691.89 L162 691.8 L163 691.77 L164 691.44 L165 691.12 L166 690.97 L167 690.47 L168 689.76 L169 689.07 L170 688.37 L171 687.58 L172 686.37 L173 684.91 L174 683.34 L175 681.71 L176 680.08 L177 678.52 L178 677.17 L179 675.4 L180 673.36 L181 671.22 L182 668.45 L183 665.81 L184 663.71 L185 661.35 L186 658.94 L187 656.99 L188 655.78 L189 655.81 L190 656.25 L191 657.34 L192 659.32 L193 660.91 L194 662.23 L195 665.09 L196 668.97 L197 672.39 L198 674.91 L199 677.65 L200 680.47 L201 682.81 L202 685.11 L203 687.14 L204 688.71 L205 690.02 L206 691.19 L207 692.88 L208 694.21 L209 694.86 L210 695.82 L211 696.55 L212 696.77 L213 697.14 L214 697.5 L215 697.8 L216 698.32 L217 698.99 L218 699.63 L219 699.91 L220 700.02 L221 700.26 L222 700.34 L223 700.57 L224 700.94 L225 701.07 L226 701.21 L227 701.35 L228 701.31 L229 701.36 L230 701.76 L231 702.11 L232 702.37 L233 702.65 L234 702.13 L235 701.47 L236 702.13 L237 702.93 L238 702.8 L239 702.48 L240 702.68 L241 703.25 L242 703.47 L243 703.35 L244 703.4 L245 703.57 L246 703.25 L247 702.88 L248 703.07 L249 703.14 L250 703.1 L251 703.2 L252 702.71 L253 702.41 L254 703.17 L255 703.48 L256 703.05 L257 702.88 L258 702.76 L259 702.59 L260 702.69 L261 702.68 L262 702.43 L263 702.22 L264 702.39 L265 702.89 L266 703.04 L267 702.72 L268 702.3 L269 702.17 L270 702.57 L271 702.54 L272 702.11 L273 701.92 L274 701.58 L275 701.66 L276 701.8 L277 701.33 L278 701.2 L279 701.66 L280 701.81 L281 701.68 L282 701.6 L283 701.49 L284 701.54 L285 701.31 L286 700.99 L287 700.84 L288 700.76 L289 700.88 L290 700.64 L291 699.79 L292 698.87 L293 698.17 L294 697.82 L295 697.61 L296 697.2 L297 696.68 L298 696.22 L299 695.54 L300 694.56 L301 694.07 L302 694 L303 693.3 L304 692.35 L305 691.49 L306 690.24 L307 688.79 L308 687.68 L309 686.99 L310 686.26 L311 685.29 L312 684.06 L313 682.87 L314 682.44 L315 682.59 L316 682.6 L317 682.81 L318 683.45 L319 684.23 L320 685.1 L321 686.09 L322 687.1 L323 688.25 L324 689.29 L325 690.28 L326 691.51 L327 692.66 L328 693.28 L329 693.72 L330 694.4 L331 694.79 L332 694.95 L333 695.12 L334 695.75 L335 696.57 L336 696.66 L337 696.34 L338 695.88 L339 695.6 L340 695.61 L341 695.5 L342 695.05 L343 694.37 L344 694.1 L345 693.62 L346 692.71 L347 691.91 L348 690.95 L349 690.03 L350 689.22 L351 687.94 L352 686.1 L353 684.15 L354 681.61 L355 678.44 L356 675.61 L357 673.27 L358 671.11 L359 669.21 L360 667.71 L361 666.85 L362 666.65 L363 667.34 L364 668.8 L365 670.9 L366 672.92 L367 674.82 L368 677.36 L369 679.37 L370 681.09 L371 683.16 L372 685.13 L373 686.54 L374 687.49 L375 688.58 L376 689.51 L377 690.38 L378 691.54 L379 692.43 L380 693.33 L381 694.45 L382 695.25 L383 696.06 L384 696.74 L385 697.26 L386 697.97 L387 698.47 L388 698.58 L389 699.11 L390 699.66 L391 699.61 L392 699.82 L393 700.2 L394 700.41 L395 700.78 L396 701.3 L397 701.96 L398 702.3 L399 702.61 L400 703.05 L401 702.96 L402 702.63 L403 702.5 L404 702.6 L405 702.81 L406 703.08 L407 703.04 L408 702.65 L409 702.8 L410 703.22 L411 703.19 L412 703.28 L413 703.47 L414 703.31 L415 703.1 L416 703.24 L417 703.57 L418 703.38 L419 702.97 L420 702.85 L421 702.87 L422 703.21 L423 703.29 L424 702.99 L425 702.63 L426 702.58 L427 702.99 L428 703.1 L429 703.1 L430 703.2 L431 703.01 L432 702.87 L433 702.8 L434 703.17 L435 703.8 L436 703.63 L437 703.46 L438 703.27 L439 702.81 L440 703.17 L441 703.52 L442 703.5 L443 703.47 L444 703.3 L445 703.68 L446 703.81 L447 703.21 L448 703.2 L449 703.7 L450 703.85 L451 703.84 L452 704.03 L453 703.93 L454 703.66 L455 703.63 L456 703.38 L457 702.96 L458 703.24 L459 703.99 L460 704.44 L461 704.39 L462 703.9 L463 703.84 L464 704.12 L465 704.19 L466 704.26 L467 704.15 L468 703.67 L469 703.29 L470 703.81 L471 704.61 L472 704.81 L473 704.59 L474 704.2 L475 703.95 L476 704 L477 704.22 L478 704.37 L479 704.62 L480 704.68 L481 704.37 L482 704.17 L483 704.15 L484 704.34 L485 704.32 L486 704.25 L487 704.58 L488 704.8 L489 704.5 L490 704.06 L491 704.02 L492 704.18 L493 704.14 L494 704.16 L495 704.45 L496 704.54 L497 704.46 L498 704.82 L499 704.89 L500 704.55 L501 705.03 L502 705.29 L503 704.85 L504 704.58 L505 704.49 L506 704.66 L507 704.87 L508 704.85 L509 704.69 L510 704.68 L511 704.85 L512 704.92 L513 705.06 L514 705.15 L515 705.19 L516 705.51 L517 705.53 L518 705.29 L519 705.57 L520 705.7 L521 705.53 L522 705.58 L523 705.8 L524 706.14 L525 706.32 L526 706.43 L527 706.68 L528 706.77 L529 707.06 L530 707.14 L531 706.95 L532 707.49 L533 707.84 L534 707.5 L535 707.41 L536 707.47 L537 707.48 L538 707.48 L539 707.61 L540 708.01 L541 708.18 L542 708.24 L543 708.55 L544 708.65 L545 708.35 L546 708.32 L547 708.81 L548 708.57 L549 707.71 L550 707.62 L551 708.15 L552 708.68 L553 708.76 L554 708.47 L555 708.48 L556 708.41 L557 708.2 L558 708.33 L559 708.42 L560 708.41 L561 708.27 L562 707.96 L563 708.01 L564 708.34 L565 708.46 L566 708.56 L567 708.68 L568 708.36 L569 708.06 L570 708.21 L571 708.39 L572 708.61 L573 708.89 L574 708.97 L575 708.97 L576 708.83 L577 708.72 L578 708.77 L579 708.66 L580 708.45 L581 708.33 L582 708.41 L583 708.55 L584 708.88 L585 709.45 L586 709.62 L587 709.19 L588 708.83 L589 708.85 L590 708.69 L591 708.45 L592 708.46 L593 708.44 L594 708.59 L595 708.82 L596 708.58 L597 708.49 L598 708.63 L599 708.35 L600 708.08 L601 708.28 L602 708.67 L603 708.82 L604 708.68 L605 708.39 L606 708.42 L607 708.53 L608 708.3 L609 708.17 L610 708.16 L611 708.29 L612 708.68 L613 708.53 L614 708.18 L615 708.47 L616 708.59 L617 708.68 L618 708.77 L619 708.5 L620 708.55 L621 708.72 L622 708.54 L623 708.42 L624 708.58 L625 708.46 L626 708.4 L627 708.81 L628 708.53 L629 707.87 L630 708.29 L631 709.19 L632 709.33 L633 708.68 L634 708.16 L635 708.47 L636 708.93 L637 708.83 L638 708.48 L639 708.49 L640 708.72 L641 708.72 L642 708.75 L643 709.02 L644 709.16 L645 708.92 L646 708.46 L647 708.3 L648 708.78 L649 708.99 L650 708.39 L651 707.87 L652 708.11 L653 708.79 L654 709.22 L655 709.1 L656 708.94 L657 709.04 L658 708.83 L659 708.25 L660 707.93 L661 707.98 L662 708.16 L663 708.31 L664 708.26 L665 708.15 L666 708.16 L667 708.44 L668 708.75 L669 708.83 L670 709.17 L671 708.93 L672 708.3 L673 708.42 L674 708.28 L675 707.89 L676 708.04 L677 708.15 L678 707.95 L679 707.72 L680 707.77 L681 707.86 L682 707.62 L683 707.41 L684 707.28 L685 707.21 L686 706.98 L687 706.83 L688 707.27 L689 707.4 L690 707.27 L691 707.05 L692 706.9 L693 707.01 L694 706.65 L695 706.48 L696 706.66 L697 706.59 L698 706.02 L699 705.54 L700 705.28 L701 704.9 L702 704.94 L703 705.29 L704 705.39 L705 704.97 L706 704.45 L707 704.15 L708 703.95 L709 704 L710 703.92 L711 703.52 L712 703.19 L713 702.97 L714 702.99 L715 702.85 L716 702.38 L717 702.23 L718 702.37 L719 702.43 L720 702.19 L721 701.56 L722 700.85 L723 700.65 L724 701.09 L725 701.22 L726 700.97 L727 700.67 L728 700.08 L729 699.9 L730 699.91 L731 699.52 L732 699.42 L733 699.39 L734 699.35 L735 699.24 L736 698.65 L737 698.03 L738 697.64 L739 697.63 L740 697.81 L741 697.82 L742 697.84 L743 697.76 L744 697.28 L745 696.98 L746 697.34 L747 697.41 L748 696.99 L749 697.16 L750 697.74 L751 697.84 L752 697.64 L753 697.4 L754 697.05 L755 696.89 L756 696.93 L757 696.77 L758 696.59 L759 696.6 L760 696.7 L761 696.63 L762 696.65 L763 696.8 L764 696.32 L765 696.11 L766 696.26 L767 695.93 L768 695.78 L769 695.48 L770 694.99 L771 695.11 L772 695.34 L773 695.49 L774 695.71 L775 695.87 L776 696.02 L777 695.95 L778 695.55 L779 695.22 L780 694.95 L781 694.49 L782 694.46 L783 694.67 L784 694.12 L785 693.24 L786 693.05 L787 693.2 L788 693.05 L789 692.34 L790 691.21 L791 690.59 L792 690.39 L793 690.1 L794 690.02 L795 689.98 L796 689.74 L797 689.46 L798 689.32 L799 689.08 L800 688.42 L801 687.95 L802 687.95 L803 687.65 L804 687.13 L805 686.42 L806 685.76 L807 685.49 L808 684.89 L809 684.41 L810 684.27 L811 683.69 L812 683.13 L813 682.86 L814 682.01 L815 680.62 L816 679.91 L817 679.5 L818 678.15 L819 676.86 L820 676.55 L821 676.16 L822 675.24 L823 673.99 L824 672.68 L825 671.53 L826 670.2 L827 668.78 L828 667.5 L829 665.9 L830 664.19 L831 662.8 L832 661.18 L833 658.68 L834 656 L835 654.04 L836 651.87 L837 649.28 L838 646.61 L839 643.77 L840 641.06 L841 637.84 L842 634.3 L843 630.93 L844 627.05 L845 622.58 L846 618.07 L847 613.96 L848 609.71 L849 604.52 L850 599.12 L851 594.35 L852 589.34 L853 583.59 L854 577.57 L855 571.76 L856 566.49 L857 561.6 L858 556.92 L859 552.19 L860 547.31 L861 542.95 L862 539.31 L863 536.29 L864 533.65 L865 531.1 L866 529.3 L867 527.9 L868 526.69 L869 526.64 L870 526.56 L871 527.02 L872 528.52 L873 531.15 L874 534.06 L875 537.3 L876 541.74 L877 546.63 L878 551.77 L879 557.64 L880 563.8 L881 570.15 L882 576.49 L883 582.88 L884 589.55 L885 595.58 L886 600.78 L887 606.19 L888 611.96 L889 617.5 L890 622.71 L891 627.7 L892 632.16 L893 636.02 L894 639.72 L895 643.16 L896 646.69 L897 650.19 L898 652.98 L899 655.52 L900 658.16 L901 660.79 L902 663.14 L903 664.98 L904 666.8 L905 668.78 L906 670.48 L907 672.17 L908 673.94 L909 675.12 L910 676.33 L911 678.24 L912 679.92 L913 681.32 L914 682.24 L915 682.43 L916 683.12 L917 684.4 L918 685.37 L919 685.91 L920 686.73 L921 687.62 L922 688.12 L923 688.95 L924 689.8 L925 690.31 L926 690.87 L927 691.12 L928 691.27 L929 691.92 L930 692.64 L931 693.17 L932 693.76 L933 694.34 L934 694.76 L935 695.04 L936 695.28 L937 695.61 L938 695.93 L939 696.47 L940 696.87 L941 696.86 L942 697.06 L943 697.28 L944 697.8 L945 698.47 L946 698.88 L947 699.14 L948 699.07 L949 699.14 L950 699.47 L951 699.8 L952 700.02 L953 700.25 L954 700.73 L955 701.16 L956 701.23 L957 701.23 L958 701.26 L959 701.19 L960 701.17 L961 701.52 L962 701.78 L963 701.93 L964 702.39 L965 702.55 L966 702.47 L967 702.78" fill="none" stroke="#000000" stroke-width="5.3" stroke-linejoin="round" stroke-linecap="butt"/>
<line x1="315.1" y1="129" x2="315.1" y2="701.5" stroke="#000" stroke-width="2.8" stroke-dasharray="13.5 13.7"/>
<line x1="361.3" y1="123" x2="361.3" y2="695.6" stroke="#000" stroke-width="2.8" stroke-dasharray="13.5 13.7"/>
<line x1="731.8" y1="161.1" x2="731.8" y2="711" stroke="#000" stroke-width="2.8" stroke-dasharray="13.5 13.7"/>
<line x1="869.7" y1="101" x2="869.7" y2="674" stroke="#000" stroke-width="2.8" stroke-dasharray="13.5 13.7"/>
<rect x="67.2" y="8.5" width="902.3" height="709" fill="none" stroke="#000" stroke-width="4.5"/>
<line x1="67.4" y1="717" x2="67.4" y2="731" stroke="#000" stroke-width="4.2"/>
<line x1="177.35" y1="717" x2="177.35" y2="731" stroke="#000" stroke-width="4.2"/>
<line x1="287.3" y1="717" x2="287.3" y2="731" stroke="#000" stroke-width="4.2"/>
<line x1="397.25" y1="717" x2="397.25" y2="731" stroke="#000" stroke-width="4.2"/>
<line x1="507.2" y1="717" x2="507.2" y2="731" stroke="#000" stroke-width="4.2"/>
<line x1="617.15" y1="717" x2="617.15" y2="731" stroke="#000" stroke-width="4.2"/>
<line x1="727.1" y1="717" x2="727.1" y2="731" stroke="#000" stroke-width="4.2"/>
<line x1="837.05" y1="717" x2="837.05" y2="731" stroke="#000" stroke-width="4.2"/>
<line x1="947" y1="717" x2="947" y2="731" stroke="#000" stroke-width="4.2"/>
<line x1="122.38" y1="717" x2="122.38" y2="724" stroke="#000" stroke-width="4.2"/>
<line x1="232.32" y1="717" x2="232.32" y2="724" stroke="#000" stroke-width="4.2"/>
<line x1="342.27" y1="717" x2="342.27" y2="724" stroke="#000" stroke-width="4.2"/>
<line x1="452.23" y1="717" x2="452.23" y2="724" stroke="#000" stroke-width="4.2"/>
<line x1="562.17" y1="717" x2="562.17" y2="724" stroke="#000" stroke-width="4.2"/>
<line x1="672.12" y1="717" x2="672.12" y2="724" stroke="#000" stroke-width="4.2"/>
<line x1="782.07" y1="717" x2="782.07" y2="724" stroke="#000" stroke-width="4.2"/>
<line x1="892.02" y1="717" x2="892.02" y2="724" stroke="#000" stroke-width="4.2"/>
<text x="67.4" y="772.3" font-size="40.5" font-family="Liberation Serif" font-weight="bold" text-anchor="middle">100</text>
<text x="177.35" y="772.3" font-size="40.5" font-family="Liberation Serif" font-weight="bold" text-anchor="middle">200</text>
<text x="287.3" y="772.3" font-size="40.5" font-family="Liberation Serif" font-weight="bold" text-anchor="middle">300</text>
<text x="397.25" y="772.3" font-size="40.5" font-family="Liberation Serif" font-weight="bold" text-anchor="middle">400</text>
<text x="507.2" y="772.3" font-size="40.5" font-family="Liberation Serif" font-weight="bold" text-anchor="middle">500</text>
<text x="617.15" y="772.3" font-size="40.5" font-family="Liberation Serif" font-weight="bold" text-anchor="middle">600</text>
<text x="727.1" y="772.3" font-size="40.5" font-family="Liberation Serif" font-weight="bold" text-anchor="middle">700</text>
<text x="837.05" y="772.3" font-size="40.5" font-family="Liberation Serif" font-weight="bold" text-anchor="middle">800</text>
<text x="947" y="772.3" font-size="40.5" font-family="Liberation Serif" font-weight="bold" text-anchor="middle">900</text>
<text x="352.96" y="829.4" font-size="43.2" font-family="Liberation Serif" font-weight="bold" >Raman shift (cm</text>
<text x="660.82" y="811.6" font-size="29.5" font-family="Liberation Serif" font-weight="bold" >-</text>
<text x="670.54" y="811.6" font-size="29.5" font-family="Liberation Serif" font-weight="bold" >1</text>
<text x="684.41" y="829.4" font-size="43.2" font-family="Liberation Serif" font-weight="bold" >)</text>
<text transform="translate(34.6 591.46) rotate(-90)" x="0" y="0" font-size="39.93" font-family="Liberation Serif" font-weight="bold">Normalized intensity (a.u.)</text>
<text x="73.95" y="48.6" font-size="33" font-family="Liberation Sans" >(a)</text>
<text transform="translate(178.15 109.78) scale(1.14 1)" font-size="39.78" font-family="Liberation Serif" stroke="#000" stroke-width="0.95">δ</text>
<text x="198.7" y="120.7" font-size="28" font-family="Liberation Serif" font-weight="bold" >as</text>
<text x="222.9" y="110.3" font-size="43.3" font-family="Liberation Serif" font-weight="bold" >(</text>
<text x="237.81" y="110.3" font-size="43.3" font-family="Liberation Serif" font-weight="bold" >V</text>
<text x="266.49" y="110.3" font-size="43.3" font-family="Liberation Serif" font-weight="bold" >O</text>
<text x="301.82" y="121.4" font-size="28" font-family="Liberation Serif" font-weight="bold" >4</text>
<text x="300.77" y="93.8" font-size="28" font-family="Liberation Serif" font-weight="bold" >-</text>
<text x="308.55" y="93.8" font-size="28" font-family="Liberation Serif" font-weight="bold" >3</text>
<text x="323.4" y="110.3" font-size="43.3" font-family="Liberation Serif" font-weight="bold" >)</text>
<text transform="translate(355.73 105.25) scale(1.13 1)" font-size="41" font-family="Liberation Serif" stroke="#000" stroke-width="0.95">δ</text>
<text x="376.05" y="115" font-size="28" font-family="Liberation Serif" font-weight="bold" >s</text>
<text x="387.2" y="105.2" font-size="43.3" font-family="Liberation Serif" font-weight="bold" >(</text>
<text x="401.11" y="105.2" font-size="43.3" font-family="Liberation Serif" font-weight="bold" >V</text>
<text x="428.89" y="105.2" font-size="43.3" font-family="Liberation Serif" font-weight="bold" >O</text>
<text x="465.22" y="115" font-size="28" font-family="Liberation Serif" font-weight="bold" >4</text>
<text x="464.17" y="87.5" font-size="28" font-family="Liberation Serif" font-weight="bold" >-</text>
<text x="472.75" y="87.5" font-size="28" font-family="Liberation Serif" font-weight="bold" >3</text>
<text x="486.8" y="105.2" font-size="43.3" font-family="Liberation Serif" font-weight="bold" >)</text>
<path transform="translate(632.6 127) scale(1.01 1)" d="M0 1.4C0.8 0.6 2.5 0.1 6 0L6.6 0.6L12.2 13.8C13.4 10.8 15.6 7.5 16 4.5C16.2 2.5 16.8 0.4 18.6 0C20 0 20.8 1.2 20.6 3C20.4 6 17.5 10.5 14.2 15.4L11.8 19C11.4 19.6 10 19.8 9.6 18.6L4 4.6C3.4 2.6 2 1.6 0 1.4Z" fill="#000"/>
<text x="654.2" y="157.2" font-size="28" font-family="Liberation Serif" font-weight="bold" >as</text>
<text x="679.3" y="145.6" font-size="43.3" font-family="Liberation Serif" font-weight="bold" >(</text>
<text x="692.71" y="145.6" font-size="43.3" font-family="Liberation Serif" font-weight="bold" >V</text>
<text x="724.01" y="145.6" font-size="43.3" font-family="Liberation Serif" font-weight="bold" >-</text>
<text x="736.89" y="145.6" font-size="43.3" font-family="Liberation Serif" font-weight="bold" >O</text>
<text x="769.8" y="145.6" font-size="43.3" font-family="Liberation Serif" font-weight="bold" >)</text>
<path transform="translate(801.2 64.6) scale(1 1.01)" d="M0 1.4C0.8 0.6 2.5 0.1 6 0L6.6 0.6L12.2 13.8C13.4 10.8 15.6 7.5 16 4.5C16.2 2.5 16.8 0.4 18.6 0C20 0 20.8 1.2 20.6 3C20.4 6 17.5 10.5 14.2 15.4L11.8 19C11.4 19.6 10 19.8 9.6 18.6L4 4.6C3.4 2.6 2 1.6 0 1.4Z" fill="#000"/>
<text x="822.15" y="95" font-size="28" font-family="Liberation Serif" font-weight="bold" >s</text>
<text x="833.3" y="84" font-size="43.3" font-family="Liberation Serif" font-weight="bold" >(</text>
<text x="846.31" y="84" font-size="43.3" font-family="Liberation Serif" font-weight="bold" >V</text>
<text x="877.61" y="84" font-size="43.3" font-family="Liberation Serif" font-weight="bold" >-</text>
<text x="890.89" y="84" font-size="43.3" font-family="Liberation Serif" font-weight="bold" >O</text>
<text x="924" y="84" font-size="43.3" font-family="Liberation Serif" font-weight="bold" >)</text>
<text x="80.01" y="216.9" font-size="37.3" font-family="Liberation Serif" font-weight="bold" >S</text>
<text x="100.6" y="226.3" font-size="25" font-family="Liberation Serif" font-weight="bold" >11</text>
<text x="125.03" y="216.9" font-size="37.3" font-family="Liberation Serif" font-weight="bold" >-BiVO</text>
<text x="228.26" y="226.3" font-size="25" font-family="Liberation Serif" font-weight="bold" >4</text>
<text x="75.21" y="390.9" font-size="37.3" font-family="Liberation Serif" font-weight="bold" >S</text>
<text x="95" y="400.5" font-size="25" font-family="Liberation Serif" font-weight="bold" >10</text>
<text x="120.83" y="390.9" font-size="37.3" font-family="Liberation Serif" font-weight="bold" >-BiVO</text>
<text x="223.06" y="400.5" font-size="25" font-family="Liberation Serif" font-weight="bold" >4</text>
<text x="77.91" y="541" font-size="37.3" font-family="Liberation Serif" font-weight="bold" >S</text>
<text x="98.87" y="550.5" font-size="25" font-family="Liberation Serif" font-weight="bold" >8</text>
<text x="110.93" y="541" font-size="37.3" font-family="Liberation Serif" font-weight="bold" >-BiVO</text>
<text x="213.96" y="550.5" font-size="25" font-family="Liberation Serif" font-weight="bold" >4</text>
<text x="85.98" y="624.8" font-size="37.3" font-family="Liberation Serif" font-weight="bold" >BiVO</text>
<text x="175.26" y="634.4" font-size="25" font-family="Liberation Serif" font-weight="bold" >4</text>
<line x1="123.61" y1="897.3" x2="123.61" y2="1592.5" stroke="#9a9a9a" stroke-width="1.3" stroke-dasharray="4.5 3.951"/>
<line x1="176.21" y1="897.3" x2="176.21" y2="1592.5" stroke="#9a9a9a" stroke-width="1.3" stroke-dasharray="4.5 3.951"/>
<line x1="228.82" y1="897.3" x2="228.82" y2="1592.5" stroke="#9a9a9a" stroke-width="1.3" stroke-dasharray="4.5 3.951"/>
<line x1="281.42" y1="897.3" x2="281.42" y2="1592.5" stroke="#9a9a9a" stroke-width="1.3" stroke-dasharray="4.5 3.951"/>
<line x1="334.03" y1="897.3" x2="334.03" y2="1592.5" stroke="#9a9a9a" stroke-width="1.3" stroke-dasharray="4.5 3.951"/>
<line x1="386.64" y1="897.3" x2="386.64" y2="1592.5" stroke="#9a9a9a" stroke-width="1.3" stroke-dasharray="4.5 3.951"/>
<line x1="439.24" y1="897.3" x2="439.24" y2="1592.5" stroke="#9a9a9a" stroke-width="1.3" stroke-dasharray="4.5 3.951"/>
<line x1="491.85" y1="897.3" x2="491.85" y2="1592.5" stroke="#9a9a9a" stroke-width="1.3" stroke-dasharray="4.5 3.951"/>
<line x1="544.45" y1="897.3" x2="544.45" y2="1592.5" stroke="#9a9a9a" stroke-width="1.3" stroke-dasharray="4.5 3.951"/>
<line x1="597.06" y1="897.3" x2="597.06" y2="1592.5" stroke="#9a9a9a" stroke-width="1.3" stroke-dasharray="4.5 3.951"/>
<line x1="649.67" y1="897.3" x2="649.67" y2="1592.5" stroke="#9a9a9a" stroke-width="1.3" stroke-dasharray="4.5 3.951"/>
<line x1="702.27" y1="897.3" x2="702.27" y2="1592.5" stroke="#9a9a9a" stroke-width="1.3" stroke-dasharray="4.5 3.951"/>
<line x1="754.88" y1="897.3" x2="754.88" y2="1592.5" stroke="#9a9a9a" stroke-width="1.3" stroke-dasharray="4.5 3.951"/>
<line x1="807.48" y1="897.3" x2="807.48" y2="1592.5" stroke="#9a9a9a" stroke-width="1.3" stroke-dasharray="4.5 3.951"/>
<line x1="860.09" y1="897.3" x2="860.09" y2="1592.5" stroke="#9a9a9a" stroke-width="1.3" stroke-dasharray="4.5 3.951"/>
<line x1="912.7" y1="897.3" x2="912.7" y2="1592.5" stroke="#9a9a9a" stroke-width="1.3" stroke-dasharray="4.5 3.951"/>
<path d="M73 1030.53 L75 1030.52 L77 1030.52 L79 1030.51 L81 1030.51 L83 1030.5 L85 1030.5 L87 1030.49 L89 1030.49 L91 1030.48 L93 1030.48 L95 1030.47 L97 1030.46 L99 1030.46 L101 1030.45 L103 1030.44 L105 1030.44 L107 1030.43 L109 1030.42 L111 1030.41 L113 1030.4 L115 1030.39 L117 1030.38 L119 1030.37 L121 1030.36 L123 1030.35 L125 1030.34 L127 1030.32 L129 1030.31 L131 1030.3 L133 1030.28 L135 1030.27 L137 1030.25 L139 1030.23 L141 1030.21 L143 1030.2 L145 1030.18 L147 1030.16 L149 1030.13 L151 1030.11 L153 1030.09 L155 1030.06 L157 1030.03 L159 1030.01 L161 1029.98 L163 1029.94 L165 1029.91 L167 1029.88 L169 1029.84 L171 1029.81 L173 1029.77 L175 1029.72 L177 1029.68 L179 1029.64 L181 1029.59 L183 1029.54 L185 1029.49 L187 1029.43 L189 1029.38 L191 1029.32 L193 1029.26 L195 1029.19 L197 1029.12 L199 1029.05 L201 1028.98 L203 1028.9 L205 1028.82 L207 1028.74 L209 1028.65 L211 1028.56 L213 1028.47 L215 1028.37 L217 1028.27 L219 1028.16 L221 1028.05 L223 1027.93 L225 1027.82 L227 1027.69 L229 1027.56 L231 1027.43 L233 1027.29 L235 1027.15 L237 1027 L239 1026.85 L241 1026.69 L243 1026.52 L245 1026.35 L247 1026.18 L249 1026 L251 1025.81 L253 1025.62 L255 1025.42 L257 1025.21 L259 1025 L261 1024.78 L263 1024.56 L265 1024.33 L267 1024.09 L269 1023.84 L271 1023.59 L273 1023.34 L275 1023.07 L277 1022.8 L279 1022.52 L281 1022.24 L283 1021.94 L285 1021.64 L287 1021.34 L289 1021.03 L291 1020.71 L293 1020.38 L295 1020.05 L297 1019.71 L299 1019.36 L301 1019.01 L303 1018.65 L305 1018.28 L307 1017.91 L309 1017.53 L311 1017.14 L313 1016.75 L315 1016.35 L317 1015.95 L319 1015.54 L321 1015.13 L323 1014.71 L325 1014.29 L327 1013.86 L329 1013.42 L331 1012.99 L333 1012.54 L335 1012.1 L337 1011.65 L339 1011.2 L341 1010.74 L343 1010.29 L345 1009.83 L347 1009.36 L349 1008.9 L351 1008.44 L353 1007.97 L355 1007.5 L357 1007.04 L359 1006.57 L361 1006.11 L363 1005.64 L365 1005.18 L367 1004.72 L369 1004.26 L371 1003.8 L373 1003.35 L375 1002.9 L377 1002.45 L379 1002.01 L381 1001.58 L383 1001.15 L385 1000.72 L387 1000.3 L389 999.89 L391 999.49 L393 999.09 L395 998.7 L397 998.33 L399 997.96 L401 997.59 L403 997.24 L405 996.9 L407 996.57 L409 996.26 L411 995.95 L413 995.66 L415 995.37 L417 995.11 L419 994.85 L421 994.61 L423 994.38 L425 994.17 L427 993.97 L429 993.78 L431 993.61 L433 993.46 L435 993.32 L437 993.2 L439 993.09 L441 993 L443 992.93 L445 992.87 L447 992.83 L449 992.81 L451 992.8 L453 992.81 L455 992.83 L457 992.88 L459 992.94 L461 993.01 L463 993.1 L465 993.21 L467 993.33 L469 993.47 L471 993.63 L473 993.8 L475 993.98 L477 994.18 L479 994.4 L481 994.63 L483 994.87 L485 995.13 L487 995.4 L489 995.68 L491 995.97 L493 996.28 L495 996.6 L497 996.93 L499 997.27 L501 997.62 L503 997.98 L505 998.36 L507 998.74 L509 999.12 L511 999.52 L513 999.93 L515 1000.34 L517 1000.76 L519 1001.18 L521 1001.61 L523 1002.05 L525 1002.49 L527 1002.93 L529 1003.38 L531 1003.84 L533 1004.29 L535 1004.75 L537 1005.21 L539 1005.68 L541 1006.14 L543 1006.61 L545 1007.07 L547 1007.54 L549 1008.01 L551 1008.47 L553 1008.94 L555 1009.4 L557 1009.86 L559 1010.32 L561 1010.78 L563 1011.23 L565 1011.69 L567 1012.13 L569 1012.58 L571 1013.02 L573 1013.46 L575 1013.89 L577 1014.32 L579 1014.74 L581 1015.16 L583 1015.58 L585 1015.98 L587 1016.39 L589 1016.78 L591 1017.17 L593 1017.56 L595 1017.94 L597 1018.31 L599 1018.68 L601 1019.03 L603 1019.39 L605 1019.73 L607 1020.07 L609 1020.41 L611 1020.73 L613 1021.05 L615 1021.36 L617 1021.67 L619 1021.97 L621 1022.26 L623 1022.54 L625 1022.82 L627 1023.09 L629 1023.36 L631 1023.61 L633 1023.86 L635 1024.11 L637 1024.34 L639 1024.57 L641 1024.8 L643 1025.02 L645 1025.23 L647 1025.43 L649 1025.63 L651 1025.82 L653 1026.01 L655 1026.19 L657 1026.37 L659 1026.54 L661 1026.7 L663 1026.86 L665 1027.01 L667 1027.16 L669 1027.3 L671 1027.44 L673 1027.57 L675 1027.7 L677 1027.82 L679 1027.94 L681 1028.06 L683 1028.17 L685 1028.27 L687 1028.38 L689 1028.47 L691 1028.57 L693 1028.66 L695 1028.75 L697 1028.83 L699 1028.91 L701 1028.99 L703 1029.06 L705 1029.13 L707 1029.2 L709 1029.26 L711 1029.32 L713 1029.38 L715 1029.44 L717 1029.49 L719 1029.54 L721 1029.59 L723 1029.64 L725 1029.68 L727 1029.73 L729 1029.77 L731 1029.81 L733 1029.85 L735 1029.88 L737 1029.91 L739 1029.95 L741 1029.98 L743 1030.01 L745 1030.04 L747 1030.06 L749 1030.09 L751 1030.11 L753 1030.13 L755 1030.16 L757 1030.18 L759 1030.2 L761 1030.22 L763 1030.23 L765 1030.25 L767 1030.27 L769 1030.28 L771 1030.3 L773 1030.31 L775 1030.33 L777 1030.34 L779 1030.35 L781 1030.36 L783 1030.37 L785 1030.38 L787 1030.39 L789 1030.4 L791 1030.41 L793 1030.42 L795 1030.43 L797 1030.44 L799 1030.44 L801 1030.45 L803 1030.46 L805 1030.47 L807 1030.47 L809 1030.48 L811 1030.48 L813 1030.49 L815 1030.49 L817 1030.5 L819 1030.5 L821 1030.51 L823 1030.51 L825 1030.52 L827 1030.52 L829 1030.53 L831 1030.53 L833 1030.53 L835 1030.54 L837 1030.54 L839 1030.54 L841 1030.55 L843 1030.55 L845 1030.55 L847 1030.56 L849 1030.56 L851 1030.56 L853 1030.56 L855 1030.57 L857 1030.57 L859 1030.57 L861 1030.57 L863 1030.58 L865 1030.58 L867 1030.58 L869 1030.58 L871 1030.59 L873 1030.59 L875 1030.59 L877 1030.59 L879 1030.59 L881 1030.6 L883 1030.6 L885 1030.6 L887 1030.6 L889 1030.6 L891 1030.61 L893 1030.61 L895 1030.61 L897 1030.61 L899 1030.61 L901 1030.61 L903 1030.62 L905 1030.62 L907 1030.62 L909 1030.62 L911 1030.62 L913 1030.62 L915 1030.62 L917 1030.63 L919 1030.63 L921 1030.63 L923 1030.63 L925 1030.63 L927 1030.63 L929 1030.63 L931 1030.64 L933 1030.64 L935 1030.64 L937 1030.64 L939 1030.64 L941 1030.64 L943 1030.64 L945 1030.64 L947 1030.65 L949 1030.65 L951 1030.65 L953 1030.65 L955 1030.65 L957 1030.65 L959 1030.65 L961 1030.65 L963 1030.66" fill="none" stroke="#008000" stroke-width="4.8" stroke-linejoin="round"/>
<path d="M73 1213.59 L75 1213.59 L77 1213.59 L79 1213.59 L81 1213.59 L83 1213.59 L85 1213.58 L87 1213.58 L89 1213.58 L91 1213.58 L93 1213.58 L95 1213.57 L97 1213.57 L99 1213.57 L101 1213.57 L103 1213.56 L105 1213.56 L107 1213.56 L109 1213.55 L111 1213.55 L113 1213.54 L115 1213.54 L117 1213.53 L119 1213.52 L121 1213.52 L123 1213.51 L125 1213.5 L127 1213.49 L129 1213.48 L131 1213.47 L133 1213.46 L135 1213.45 L137 1213.44 L139 1213.42 L141 1213.41 L143 1213.39 L145 1213.37 L147 1213.35 L149 1213.33 L151 1213.31 L153 1213.29 L155 1213.26 L157 1213.23 L159 1213.2 L161 1213.17 L163 1213.14 L165 1213.1 L167 1213.06 L169 1213.02 L171 1212.97 L173 1212.93 L175 1212.87 L177 1212.82 L179 1212.76 L181 1212.7 L183 1212.63 L185 1212.56 L187 1212.48 L189 1212.4 L191 1212.31 L193 1212.22 L195 1212.12 L197 1212.02 L199 1211.9 L201 1211.79 L203 1211.66 L205 1211.53 L207 1211.39 L209 1211.24 L211 1211.08 L213 1210.91 L215 1210.73 L217 1210.55 L219 1210.35 L221 1210.14 L223 1209.92 L225 1209.68 L227 1209.44 L229 1209.18 L231 1208.91 L233 1208.62 L235 1208.32 L237 1208 L239 1207.66 L241 1207.31 L243 1206.94 L245 1206.56 L247 1206.15 L249 1205.73 L251 1205.29 L253 1204.82 L255 1204.33 L257 1203.83 L259 1203.3 L261 1202.74 L263 1202.16 L265 1201.56 L267 1200.93 L269 1200.28 L271 1199.59 L273 1198.88 L275 1198.15 L277 1197.38 L279 1196.59 L281 1195.76 L283 1194.9 L285 1194.01 L287 1193.09 L289 1192.14 L291 1191.16 L293 1190.14 L295 1189.09 L297 1188 L299 1186.88 L301 1185.72 L303 1184.53 L305 1183.3 L307 1182.03 L309 1180.73 L311 1179.39 L313 1178.02 L315 1176.61 L317 1175.16 L319 1173.67 L321 1172.15 L323 1170.59 L325 1169 L327 1167.37 L329 1165.7 L331 1164 L333 1162.27 L335 1160.5 L337 1158.7 L339 1156.86 L341 1154.99 L343 1153.09 L345 1151.16 L347 1149.2 L349 1147.22 L351 1145.2 L353 1143.16 L355 1141.1 L357 1139.01 L359 1136.9 L361 1134.77 L363 1132.62 L365 1130.45 L367 1128.27 L369 1126.08 L371 1123.87 L373 1121.66 L375 1119.43 L377 1117.2 L379 1114.97 L381 1112.74 L383 1110.51 L385 1108.28 L387 1106.05 L389 1103.84 L391 1101.63 L393 1099.44 L395 1097.26 L397 1095.1 L399 1092.96 L401 1090.85 L403 1088.76 L405 1086.69 L407 1084.66 L409 1082.66 L411 1080.7 L413 1078.77 L415 1076.89 L417 1075.04 L419 1073.24 L421 1071.5 L423 1069.8 L425 1068.15 L427 1066.56 L429 1065.02 L431 1063.54 L433 1062.13 L435 1060.78 L437 1059.49 L439 1058.27 L441 1057.12 L443 1056.04 L445 1055.03 L447 1054.09 L449 1053.23 L451 1052.44 L453 1051.73 L455 1051.1 L457 1050.55 L459 1050.08 L461 1049.69 L463 1049.38 L465 1049.15 L467 1049.01 L469 1048.94 L471 1048.96 L473 1049.06 L475 1049.25 L477 1049.51 L479 1049.86 L481 1050.29 L483 1050.79 L485 1051.38 L487 1052.05 L489 1052.79 L491 1053.61 L493 1054.51 L495 1055.48 L497 1056.52 L499 1057.63 L501 1058.82 L503 1060.07 L505 1061.39 L507 1062.77 L509 1064.21 L511 1065.71 L513 1067.28 L515 1068.89 L517 1070.57 L519 1072.29 L521 1074.06 L523 1075.88 L525 1077.74 L527 1079.65 L529 1081.59 L531 1083.57 L533 1085.59 L535 1087.63 L537 1089.71 L539 1091.81 L541 1093.94 L543 1096.09 L545 1098.26 L547 1100.44 L549 1102.64 L551 1104.85 L553 1107.07 L555 1109.29 L557 1111.53 L559 1113.76 L561 1115.99 L563 1118.22 L565 1120.45 L567 1122.67 L569 1124.88 L571 1127.08 L573 1129.27 L575 1131.44 L577 1133.6 L579 1135.74 L581 1137.86 L583 1139.96 L585 1142.04 L587 1144.1 L589 1146.12 L591 1148.13 L593 1150.1 L595 1152.05 L597 1153.96 L599 1155.85 L601 1157.7 L603 1159.52 L605 1161.31 L607 1163.07 L609 1164.79 L611 1166.47 L613 1168.12 L615 1169.73 L617 1171.31 L619 1172.85 L621 1174.36 L623 1175.82 L625 1177.26 L627 1178.65 L629 1180.01 L631 1181.33 L633 1182.61 L635 1183.86 L637 1185.08 L639 1186.25 L641 1187.39 L643 1188.5 L645 1189.57 L647 1190.61 L649 1191.61 L651 1192.58 L653 1193.52 L655 1194.42 L657 1195.3 L659 1196.14 L661 1196.95 L663 1197.73 L665 1198.49 L667 1199.21 L669 1199.91 L671 1200.58 L673 1201.22 L675 1201.84 L677 1202.43 L679 1203 L681 1203.54 L683 1204.06 L685 1204.56 L687 1205.04 L689 1205.49 L691 1205.93 L693 1206.34 L695 1206.74 L697 1207.12 L699 1207.48 L701 1207.82 L703 1208.14 L705 1208.46 L707 1208.75 L709 1209.03 L711 1209.3 L713 1209.55 L715 1209.79 L717 1210.02 L719 1210.23 L721 1210.44 L723 1210.63 L725 1210.82 L727 1210.99 L729 1211.15 L731 1211.31 L733 1211.45 L735 1211.59 L737 1211.72 L739 1211.84 L741 1211.96 L743 1212.06 L745 1212.17 L747 1212.26 L749 1212.35 L751 1212.44 L753 1212.52 L755 1212.59 L757 1212.66 L759 1212.73 L761 1212.79 L763 1212.84 L765 1212.9 L767 1212.95 L769 1212.99 L771 1213.04 L773 1213.08 L775 1213.12 L777 1213.15 L779 1213.19 L781 1213.22 L783 1213.25 L785 1213.27 L787 1213.3 L789 1213.32 L791 1213.34 L793 1213.36 L795 1213.38 L797 1213.4 L799 1213.41 L801 1213.43 L803 1213.44 L805 1213.46 L807 1213.47 L809 1213.48 L811 1213.49 L813 1213.5 L815 1213.51 L817 1213.51 L819 1213.52 L821 1213.53 L823 1213.53 L825 1213.54 L827 1213.54 L829 1213.55 L831 1213.55 L833 1213.56 L835 1213.56 L837 1213.56 L839 1213.57 L841 1213.57 L843 1213.57 L845 1213.58 L847 1213.58 L849 1213.58 L851 1213.58 L853 1213.58 L855 1213.58 L857 1213.59 L859 1213.59 L861 1213.59 L863 1213.59 L865 1213.59 L867 1213.59 L869 1213.59 L871 1213.59 L873 1213.59 L875 1213.59 L877 1213.59 L879 1213.6 L881 1213.6 L883 1213.6 L885 1213.6 L887 1213.6 L889 1213.6 L891 1213.6 L893 1213.6 L895 1213.6 L897 1213.6 L899 1213.6 L901 1213.6 L903 1213.6 L905 1213.6 L907 1213.6 L909 1213.6 L911 1213.6 L913 1213.6 L915 1213.6 L917 1213.6 L919 1213.6 L921 1213.6 L923 1213.6 L925 1213.6 L927 1213.6 L929 1213.6 L931 1213.6 L933 1213.6 L935 1213.6 L937 1213.6 L939 1213.6 L941 1213.6 L943 1213.6 L945 1213.6 L947 1213.6 L949 1213.6 L951 1213.6 L953 1213.6 L955 1213.6 L957 1213.6 L959 1213.6 L961 1213.6 L963 1213.6" fill="none" stroke="#0000ff" stroke-width="4.8" stroke-linejoin="round"/>
<path d="M73 1361.29 L75 1361.29 L77 1361.29 L79 1361.29 L81 1361.28 L83 1361.28 L85 1361.28 L87 1361.28 L89 1361.28 L91 1361.28 L93 1361.27 L95 1361.27 L97 1361.27 L99 1361.27 L101 1361.26 L103 1361.26 L105 1361.26 L107 1361.25 L109 1361.25 L111 1361.24 L113 1361.24 L115 1361.23 L117 1361.23 L119 1361.22 L121 1361.21 L123 1361.2 L125 1361.2 L127 1361.19 L129 1361.18 L131 1361.17 L133 1361.16 L135 1361.14 L137 1361.13 L139 1361.12 L141 1361.1 L143 1361.08 L145 1361.07 L147 1361.05 L149 1361.03 L151 1361.01 L153 1360.98 L155 1360.96 L157 1360.93 L159 1360.9 L161 1360.87 L163 1360.84 L165 1360.81 L167 1360.77 L169 1360.73 L171 1360.69 L173 1360.64 L175 1360.59 L177 1360.54 L179 1360.49 L181 1360.43 L183 1360.37 L185 1360.3 L187 1360.23 L189 1360.16 L191 1360.08 L193 1359.99 L195 1359.9 L197 1359.81 L199 1359.71 L201 1359.6 L203 1359.49 L205 1359.37 L207 1359.25 L209 1359.12 L211 1358.98 L213 1358.83 L215 1358.67 L217 1358.51 L219 1358.33 L221 1358.15 L223 1357.96 L225 1357.76 L227 1357.55 L229 1357.32 L231 1357.09 L233 1356.84 L235 1356.58 L237 1356.31 L239 1356.03 L241 1355.73 L243 1355.42 L245 1355.09 L247 1354.75 L249 1354.39 L251 1354.02 L253 1353.63 L255 1353.22 L257 1352.8 L259 1352.36 L261 1351.9 L263 1351.42 L265 1350.92 L267 1350.4 L269 1349.86 L271 1349.3 L273 1348.72 L275 1348.12 L277 1347.49 L279 1346.84 L281 1346.17 L283 1345.48 L285 1344.76 L287 1344.01 L289 1343.25 L291 1342.45 L293 1341.63 L295 1340.79 L297 1339.92 L299 1339.02 L301 1338.1 L303 1337.14 L305 1336.17 L307 1335.16 L309 1334.13 L311 1333.07 L313 1331.98 L315 1330.87 L317 1329.73 L319 1328.56 L321 1327.36 L323 1326.14 L325 1324.89 L327 1323.62 L329 1322.32 L331 1320.99 L333 1319.64 L335 1318.26 L337 1316.86 L339 1315.43 L341 1313.99 L343 1312.52 L345 1311.02 L347 1309.51 L349 1307.98 L351 1306.43 L353 1304.85 L355 1303.27 L357 1301.66 L359 1300.04 L361 1298.41 L363 1296.76 L365 1295.11 L367 1293.44 L369 1291.76 L371 1290.08 L373 1288.39 L375 1286.7 L377 1285 L379 1283.3 L381 1281.6 L383 1279.91 L385 1278.21 L387 1276.53 L389 1274.84 L391 1273.17 L393 1271.51 L395 1269.86 L397 1268.23 L399 1266.61 L401 1265.01 L403 1263.43 L405 1261.87 L407 1260.33 L409 1258.82 L411 1257.34 L413 1255.88 L415 1254.46 L417 1253.07 L419 1251.71 L421 1250.39 L423 1249.1 L425 1247.86 L427 1246.65 L429 1245.49 L431 1244.38 L433 1243.3 L435 1242.28 L437 1241.3 L439 1240.38 L441 1239.5 L443 1238.68 L445 1237.91 L447 1237.19 L449 1236.53 L451 1235.93 L453 1235.38 L455 1234.89 L457 1234.46 L459 1234.09 L461 1233.78 L463 1233.53 L465 1233.34 L467 1233.21 L469 1233.14 L471 1233.13 L473 1233.19 L475 1233.3 L477 1233.48 L479 1233.72 L481 1234.01 L483 1234.37 L485 1234.79 L487 1235.26 L489 1235.8 L491 1236.39 L493 1237.04 L495 1237.74 L497 1238.5 L499 1239.31 L501 1240.17 L503 1241.09 L505 1242.05 L507 1243.07 L509 1244.13 L511 1245.24 L513 1246.39 L515 1247.58 L517 1248.82 L519 1250.09 L521 1251.41 L523 1252.76 L525 1254.14 L527 1255.56 L529 1257.01 L531 1258.48 L533 1259.99 L535 1261.52 L537 1263.07 L539 1264.65 L541 1266.25 L543 1267.86 L545 1269.49 L547 1271.14 L549 1272.8 L551 1274.46 L553 1276.14 L555 1277.83 L557 1279.52 L559 1281.22 L561 1282.91 L563 1284.61 L565 1286.31 L567 1288.01 L569 1289.7 L571 1291.38 L573 1293.06 L575 1294.73 L577 1296.39 L579 1298.04 L581 1299.67 L583 1301.3 L585 1302.9 L587 1304.5 L589 1306.07 L591 1307.63 L593 1309.16 L595 1310.68 L597 1312.18 L599 1313.66 L601 1315.11 L603 1316.54 L605 1317.95 L607 1319.33 L609 1320.69 L611 1322.02 L613 1323.33 L615 1324.61 L617 1325.86 L619 1327.09 L621 1328.29 L623 1329.47 L625 1330.61 L627 1331.73 L629 1332.83 L631 1333.89 L633 1334.93 L635 1335.94 L637 1336.92 L639 1337.88 L641 1338.81 L643 1339.72 L645 1340.59 L647 1341.44 L649 1342.27 L651 1343.07 L653 1343.84 L655 1344.59 L657 1345.32 L659 1346.02 L661 1346.69 L663 1347.35 L665 1347.98 L667 1348.59 L669 1349.17 L671 1349.74 L673 1350.28 L675 1350.8 L677 1351.31 L679 1351.79 L681 1352.25 L683 1352.7 L685 1353.13 L687 1353.54 L689 1353.93 L691 1354.31 L693 1354.67 L695 1355.01 L697 1355.34 L699 1355.66 L701 1355.96 L703 1356.25 L705 1356.52 L707 1356.78 L709 1357.03 L711 1357.27 L713 1357.5 L715 1357.71 L717 1357.92 L719 1358.11 L721 1358.29 L723 1358.47 L725 1358.64 L727 1358.79 L729 1358.94 L731 1359.09 L733 1359.22 L735 1359.35 L737 1359.47 L739 1359.58 L741 1359.69 L743 1359.79 L745 1359.88 L747 1359.97 L749 1360.06 L751 1360.14 L753 1360.21 L755 1360.29 L757 1360.35 L759 1360.42 L761 1360.47 L763 1360.53 L765 1360.58 L767 1360.63 L769 1360.68 L771 1360.72 L773 1360.76 L775 1360.8 L777 1360.83 L779 1360.87 L781 1360.9 L783 1360.93 L785 1360.95 L787 1360.98 L789 1361 L791 1361.02 L793 1361.04 L795 1361.06 L797 1361.08 L799 1361.1 L801 1361.11 L803 1361.13 L805 1361.14 L807 1361.15 L809 1361.16 L811 1361.17 L813 1361.18 L815 1361.19 L817 1361.2 L819 1361.21 L821 1361.22 L823 1361.22 L825 1361.23 L827 1361.24 L829 1361.24 L831 1361.25 L833 1361.25 L835 1361.25 L837 1361.26 L839 1361.26 L841 1361.26 L843 1361.27 L845 1361.27 L847 1361.27 L849 1361.28 L851 1361.28 L853 1361.28 L855 1361.28 L857 1361.28 L859 1361.28 L861 1361.29 L863 1361.29 L865 1361.29 L867 1361.29 L869 1361.29 L871 1361.29 L873 1361.29 L875 1361.29 L877 1361.29 L879 1361.29 L881 1361.29 L883 1361.3 L885 1361.3 L887 1361.3 L889 1361.3 L891 1361.3 L893 1361.3 L895 1361.3 L897 1361.3 L899 1361.3 L901 1361.3 L903 1361.3 L905 1361.3 L907 1361.3 L909 1361.3 L911 1361.3 L913 1361.3 L915 1361.3 L917 1361.3 L919 1361.3 L921 1361.3 L923 1361.3 L925 1361.3 L927 1361.3 L929 1361.3 L931 1361.3 L933 1361.3 L935 1361.3 L937 1361.3 L939 1361.3 L941 1361.3 L943 1361.3 L945 1361.3 L947 1361.3 L949 1361.3 L951 1361.3 L953 1361.3 L955 1361.3 L957 1361.3 L959 1361.3 L961 1361.3 L963 1361.3" fill="none" stroke="#ff0000" stroke-width="4.8" stroke-linejoin="round"/>
<path d="M73 1565.81 L75 1565.8 L77 1565.79 L79 1565.78 L81 1565.78 L83 1565.77 L85 1565.76 L87 1565.76 L89 1565.75 L91 1565.74 L93 1565.73 L95 1565.72 L97 1565.71 L99 1565.71 L101 1565.7 L103 1565.69 L105 1565.68 L107 1565.67 L109 1565.66 L111 1565.65 L113 1565.64 L115 1565.63 L117 1565.62 L119 1565.6 L121 1565.59 L123 1565.58 L125 1565.57 L127 1565.55 L129 1565.54 L131 1565.52 L133 1565.51 L135 1565.49 L137 1565.48 L139 1565.46 L141 1565.44 L143 1565.42 L145 1565.4 L147 1565.38 L149 1565.36 L151 1565.34 L153 1565.32 L155 1565.29 L157 1565.27 L159 1565.24 L161 1565.21 L163 1565.18 L165 1565.15 L167 1565.11 L169 1565.08 L171 1565.04 L173 1565 L175 1564.96 L177 1564.91 L179 1564.86 L181 1564.81 L183 1564.76 L185 1564.7 L187 1564.64 L189 1564.58 L191 1564.51 L193 1564.44 L195 1564.37 L197 1564.29 L199 1564.2 L201 1564.11 L203 1564.02 L205 1563.92 L207 1563.81 L209 1563.7 L211 1563.58 L213 1563.45 L215 1563.32 L217 1563.18 L219 1563.03 L221 1562.87 L223 1562.7 L225 1562.52 L227 1562.33 L229 1562.14 L231 1561.93 L233 1561.71 L235 1561.47 L237 1561.23 L239 1560.97 L241 1560.69 L243 1560.41 L245 1560.1 L247 1559.79 L249 1559.45 L251 1559.1 L253 1558.73 L255 1558.34 L257 1557.93 L259 1557.5 L261 1557.05 L263 1556.58 L265 1556.08 L267 1555.57 L269 1555.03 L271 1554.46 L273 1553.87 L275 1553.25 L277 1552.6 L279 1551.93 L281 1551.22 L283 1550.49 L285 1549.72 L287 1548.93 L289 1548.1 L291 1547.24 L293 1546.34 L295 1545.41 L297 1544.45 L299 1543.44 L301 1542.4 L303 1541.33 L305 1540.21 L307 1539.06 L309 1537.86 L311 1536.63 L313 1535.35 L315 1534.04 L317 1532.68 L319 1531.28 L321 1529.83 L323 1528.35 L325 1526.82 L327 1525.25 L329 1523.63 L331 1521.98 L333 1520.27 L335 1518.53 L337 1516.74 L339 1514.91 L341 1513.04 L343 1511.12 L345 1509.16 L347 1507.17 L349 1505.13 L351 1503.05 L353 1500.93 L355 1498.78 L357 1496.58 L359 1494.35 L361 1492.09 L363 1489.79 L365 1487.47 L367 1485.11 L369 1482.72 L371 1480.3 L373 1477.86 L375 1475.4 L377 1472.91 L379 1470.4 L381 1467.88 L383 1465.34 L385 1462.79 L387 1460.22 L389 1457.65 L391 1455.08 L393 1452.5 L395 1449.92 L397 1447.34 L399 1444.77 L401 1442.2 L403 1439.65 L405 1437.11 L407 1434.59 L409 1432.09 L411 1429.61 L413 1427.16 L415 1424.74 L417 1422.35 L419 1420 L421 1417.69 L423 1415.42 L425 1413.19 L427 1411.02 L429 1408.89 L431 1406.83 L433 1404.82 L435 1402.87 L437 1400.99 L439 1399.18 L441 1397.43 L443 1395.77 L445 1394.17 L447 1392.66 L449 1391.22 L451 1389.88 L453 1388.61 L455 1387.44 L457 1386.36 L459 1385.37 L461 1384.47 L463 1383.67 L465 1382.96 L467 1382.36 L469 1381.86 L471 1381.45 L473 1381.15 L475 1380.95 L477 1380.85 L479 1380.86 L481 1380.96 L483 1381.17 L485 1381.48 L487 1381.9 L489 1382.41 L491 1383.03 L493 1383.74 L495 1384.55 L497 1385.45 L499 1386.45 L501 1387.54 L503 1388.73 L505 1390 L507 1391.35 L509 1392.79 L511 1394.32 L513 1395.92 L515 1397.59 L517 1399.34 L519 1401.16 L521 1403.05 L523 1405 L525 1407.02 L527 1409.09 L529 1411.22 L531 1413.4 L533 1415.62 L535 1417.9 L537 1420.21 L539 1422.57 L541 1424.96 L543 1427.38 L545 1429.84 L547 1432.32 L549 1434.82 L551 1437.34 L553 1439.88 L555 1442.44 L557 1445 L559 1447.58 L561 1450.15 L563 1452.73 L565 1455.31 L567 1457.89 L569 1460.46 L571 1463.02 L573 1465.57 L575 1468.11 L577 1470.64 L579 1473.14 L581 1475.62 L583 1478.09 L585 1480.53 L587 1482.94 L589 1485.33 L591 1487.68 L593 1490.01 L595 1492.3 L597 1494.56 L599 1496.79 L601 1498.98 L603 1501.13 L605 1503.24 L607 1505.32 L609 1507.35 L611 1509.35 L613 1511.3 L615 1513.21 L617 1515.08 L619 1516.91 L621 1518.69 L623 1520.43 L625 1522.13 L627 1523.79 L629 1525.4 L631 1526.96 L633 1528.49 L635 1529.97 L637 1531.41 L639 1532.81 L641 1534.16 L643 1535.47 L645 1536.74 L647 1537.97 L649 1539.17 L651 1540.32 L653 1541.43 L655 1542.5 L657 1543.54 L659 1544.54 L661 1545.5 L663 1546.43 L665 1547.32 L667 1548.18 L669 1549 L671 1549.8 L673 1550.56 L675 1551.29 L677 1551.99 L679 1552.66 L681 1553.31 L683 1553.92 L685 1554.51 L687 1555.08 L689 1555.62 L691 1556.13 L693 1556.62 L695 1557.09 L697 1557.54 L699 1557.97 L701 1558.37 L703 1558.76 L705 1559.13 L707 1559.48 L709 1559.82 L711 1560.13 L713 1560.43 L715 1560.72 L717 1560.99 L719 1561.25 L721 1561.49 L723 1561.73 L725 1561.95 L727 1562.15 L729 1562.35 L731 1562.54 L733 1562.71 L735 1562.88 L737 1563.04 L739 1563.19 L741 1563.33 L743 1563.46 L745 1563.59 L747 1563.71 L749 1563.82 L751 1563.93 L753 1564.03 L755 1564.12 L757 1564.21 L759 1564.29 L761 1564.37 L763 1564.45 L765 1564.52 L767 1564.59 L769 1564.65 L771 1564.71 L773 1564.76 L775 1564.82 L777 1564.87 L779 1564.91 L781 1564.96 L783 1565 L785 1565.04 L787 1565.08 L789 1565.12 L791 1565.15 L793 1565.18 L795 1565.21 L797 1565.24 L799 1565.27 L801 1565.29 L803 1565.32 L805 1565.34 L807 1565.36 L809 1565.39 L811 1565.41 L813 1565.43 L815 1565.44 L817 1565.46 L819 1565.48 L821 1565.5 L823 1565.51 L825 1565.53 L827 1565.54 L829 1565.55 L831 1565.57 L833 1565.58 L835 1565.59 L837 1565.6 L839 1565.62 L841 1565.63 L843 1565.64 L845 1565.65 L847 1565.66 L849 1565.67 L851 1565.68 L853 1565.69 L855 1565.7 L857 1565.71 L859 1565.72 L861 1565.72 L863 1565.73 L865 1565.74 L867 1565.75 L869 1565.76 L871 1565.76 L873 1565.77 L875 1565.78 L877 1565.79 L879 1565.79 L881 1565.8 L883 1565.81 L885 1565.81 L887 1565.82 L889 1565.83 L891 1565.83 L893 1565.84 L895 1565.84 L897 1565.85 L899 1565.86 L901 1565.86 L903 1565.87 L905 1565.87 L907 1565.88 L909 1565.88 L911 1565.89 L913 1565.9 L915 1565.9 L917 1565.91 L919 1565.91 L921 1565.92 L923 1565.92 L925 1565.93 L927 1565.93 L929 1565.94 L931 1565.94 L933 1565.95 L935 1565.95 L937 1565.95 L939 1565.96 L941 1565.96 L943 1565.97 L945 1565.97 L947 1565.98 L949 1565.98 L951 1565.99 L953 1565.99 L955 1565.99 L957 1566 L959 1566 L961 1566.01 L963 1566.01" fill="none" stroke="#000000" stroke-width="4.8" stroke-linejoin="round"/>
<line x1="448.2" y1="993" x2="448.2" y2="1014" stroke="#000" stroke-width="1.8"/>
<line x1="468.8" y1="1050" x2="468.8" y2="1105.6" stroke="#000" stroke-width="1.8"/>
<line x1="470.6" y1="1233" x2="470.6" y2="1290.6" stroke="#000" stroke-width="1.8"/>
<line x1="478.4" y1="1380" x2="478.4" y2="1436.4" stroke="#000" stroke-width="1.8"/>
<text x="394.26" y="1046.8" font-size="40.5" font-family="Liberation Serif" font-weight="bold" >822</text>
<text x="434.16" y="1142" font-size="40.5" font-family="Liberation Serif" font-weight="bold" >825</text>
<text x="436.96" y="1326.2" font-size="40.5" font-family="Liberation Serif" font-weight="bold" >825</text>
<text x="445.36" y="1473.3" font-size="40.5" font-family="Liberation Serif" font-weight="bold" >827</text>
<rect x="70.6" y="890.6" width="894.7" height="704" fill="none" stroke="#000" stroke-width="4.4"/>
<line x1="123.61" y1="1594" x2="123.61" y2="1608" stroke="#000" stroke-width="4.2"/>
<line x1="228.82" y1="1594" x2="228.82" y2="1608" stroke="#000" stroke-width="4.2"/>
<line x1="334.03" y1="1594" x2="334.03" y2="1608" stroke="#000" stroke-width="4.2"/>
<line x1="439.24" y1="1594" x2="439.24" y2="1608" stroke="#000" stroke-width="4.2"/>
<line x1="544.45" y1="1594" x2="544.45" y2="1608" stroke="#000" stroke-width="4.2"/>
<line x1="649.67" y1="1594" x2="649.67" y2="1608" stroke="#000" stroke-width="4.2"/>
<line x1="754.88" y1="1594" x2="754.88" y2="1608" stroke="#000" stroke-width="4.2"/>
<line x1="860.09" y1="1594" x2="860.09" y2="1608" stroke="#000" stroke-width="4.2"/>
<line x1="965.3" y1="1594" x2="965.3" y2="1608" stroke="#000" stroke-width="4.2"/>
<line x1="71" y1="1594" x2="71" y2="1601" stroke="#000" stroke-width="4.2"/>
<line x1="176.21" y1="1594" x2="176.21" y2="1601" stroke="#000" stroke-width="4.2"/>
<line x1="281.42" y1="1594" x2="281.42" y2="1601" stroke="#000" stroke-width="4.2"/>
<line x1="386.64" y1="1594" x2="386.64" y2="1601" stroke="#000" stroke-width="4.2"/>
<line x1="491.85" y1="1594" x2="491.85" y2="1601" stroke="#000" stroke-width="4.2"/>
<line x1="597.06" y1="1594" x2="597.06" y2="1601" stroke="#000" stroke-width="4.2"/>
<line x1="702.27" y1="1594" x2="702.27" y2="1601" stroke="#000" stroke-width="4.2"/>
<line x1="807.48" y1="1594" x2="807.48" y2="1601" stroke="#000" stroke-width="4.2"/>
<line x1="912.7" y1="1594" x2="912.7" y2="1601" stroke="#000" stroke-width="4.2"/>
<text x="123.61" y="1648.4" font-size="40.5" font-family="Liberation Serif" font-weight="bold" text-anchor="middle">760</text>
<text x="228.82" y="1648.4" font-size="40.5" font-family="Liberation Serif" font-weight="bold" text-anchor="middle">780</text>
<text x="334.03" y="1648.4" font-size="40.5" font-family="Liberation Serif" font-weight="bold" text-anchor="middle">800</text>
<text x="439.24" y="1648.4" font-size="40.5" font-family="Liberation Serif" font-weight="bold" text-anchor="middle">820</text>
<text x="544.45" y="1648.4" font-size="40.5" font-family="Liberation Serif" font-weight="bold" text-anchor="middle">840</text>
<text x="649.67" y="1648.4" font-size="40.5" font-family="Liberation Serif" font-weight="bold" text-anchor="middle">860</text>
<text x="754.88" y="1648.4" font-size="40.5" font-family="Liberation Serif" font-weight="bold" text-anchor="middle">880</text>
<text x="860.09" y="1648.4" font-size="40.5" font-family="Liberation Serif" font-weight="bold" text-anchor="middle">900</text>
<text x="965.3" y="1648.4" font-size="40.5" font-family="Liberation Serif" font-weight="bold" text-anchor="middle">920</text>
<text x="343.97" y="1701.5" font-size="42.6" font-family="Liberation Serif" font-weight="bold" >Raman shift (cm</text>
<text x="648.72" y="1683.7" font-size="29.5" font-family="Liberation Serif" font-weight="bold" >-</text>
<text x="659.04" y="1683.7" font-size="29.5" font-family="Liberation Serif" font-weight="bold" >1</text>
<text x="672.23" y="1701.5" font-size="42.6" font-family="Liberation Serif" font-weight="bold" >)</text>
<text transform="translate(38.8 1472.06) rotate(-90)" x="0" y="0" font-size="39.93" font-family="Liberation Serif" font-weight="bold">Normalized intensity (a.u.)</text>
<text x="73.55" y="932.6" font-size="33" font-family="Liberation Sans" >(b)</text>
<path transform="translate(286.2 923.7) scale(0.95 1)" d="M0 1.4C0.8 0.6 2.5 0.1 6 0L6.6 0.6L12.2 13.8C13.4 10.8 15.6 7.5 16 4.5C16.2 2.5 16.8 0.4 18.6 0C20 0 20.8 1.2 20.6 3C20.4 6 17.5 10.5 14.2 15.4L11.8 19C11.4 19.6 10 19.8 9.6 18.6L4 4.6C3.4 2.6 2 1.6 0 1.4Z" fill="#000"/>
<text x="306.57" y="952.9" font-size="27.5" font-family="Liberation Serif" font-weight="bold" >s</text>
<text x="317.45" y="942.6" font-size="42.2" font-family="Liberation Serif" font-weight="bold" >(</text>
<text x="330.93" y="942.6" font-size="42.2" font-family="Liberation Serif" font-weight="bold" >V</text>
<text x="361.35" y="942.6" font-size="42.2" font-family="Liberation Serif" font-weight="bold" >-</text>
<text x="376.94" y="942.6" font-size="42.2" font-family="Liberation Serif" font-weight="bold" >O</text>
<text x="406.54" y="942.6" font-size="42.2" font-family="Liberation Serif" font-weight="bold" >)</text>
<text x="432.57" y="942.6" font-size="42.2" font-family="Liberation Serif" font-weight="bold" >in</text>
<text x="477.8" y="942.6" font-size="42.2" font-family="Liberation Serif" font-weight="bold" >BiVO</text>
<text x="579.12" y="953.3" font-size="27.5" font-family="Liberation Serif" font-weight="bold" >4</text>
<text x="86.67" y="1078.5" font-size="36.3" font-family="Liberation Serif" font-weight="bold" >S</text>
<text x="107" y="1087.7" font-size="25" font-family="Liberation Serif" font-weight="bold" >11</text>
<text x="132.37" y="1078.5" font-size="36.3" font-family="Liberation Serif" font-weight="bold" >-BiVO</text>
<text x="232.26" y="1087.7" font-size="25" font-family="Liberation Serif" font-weight="bold" >4</text>
<text x="84.27" y="1260.7" font-size="36.3" font-family="Liberation Serif" font-weight="bold" >S</text>
<text x="104" y="1270.6" font-size="25" font-family="Liberation Serif" font-weight="bold" >10</text>
<text x="129.47" y="1260.7" font-size="36.3" font-family="Liberation Serif" font-weight="bold" >-BiVO</text>
<text x="230.46" y="1270.6" font-size="25" font-family="Liberation Serif" font-weight="bold" >4</text>
<text x="84.27" y="1402.7" font-size="36.3" font-family="Liberation Serif" font-weight="bold" >S</text>
<text x="104.37" y="1412.5" font-size="25" font-family="Liberation Serif" font-weight="bold" >8</text>
<text x="117.17" y="1402.7" font-size="36.3" font-family="Liberation Serif" font-weight="bold" >-BiVO</text>
<text x="218.06" y="1412.5" font-size="25" font-family="Liberation Serif" font-weight="bold" >4</text>
<text x="91.8" y="1536.3" font-size="36.3" font-family="Liberation Serif" font-weight="bold" >BiVO</text>
<text x="179.16" y="1545.5" font-size="25" font-family="Liberation Serif" font-weight="bold" >4</text>
</svg>
</body></html>
